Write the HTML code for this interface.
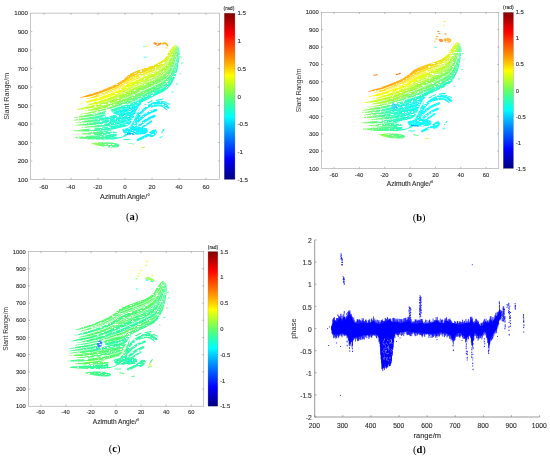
<!DOCTYPE html>
<html><head><meta charset="utf-8"><title>figure</title>
<style>html,body{margin:0;padding:0;background:#fff;overflow:hidden}svg{display:block}text{font-family:"Liberation Sans",sans-serif;stroke:#2e2e2e;stroke-width:0.12px}text.cap{font-family:"Liberation Serif",serif;stroke:none}</style>
</head><body>
<svg width="550" height="459" viewBox="0 0 550 459">
<rect width="550" height="459" fill="#fff"/>
<defs>
<linearGradient id="jet" x1="0" y1="0" x2="0" y2="1"><stop offset="0.0000" stop-color="#800000"/><stop offset="0.0312" stop-color="#9f0000"/><stop offset="0.0625" stop-color="#bf0000"/><stop offset="0.0938" stop-color="#df0000"/><stop offset="0.1250" stop-color="#ff0000"/><stop offset="0.1562" stop-color="#ff2000"/><stop offset="0.1875" stop-color="#ff3e00"/><stop offset="0.2188" stop-color="#ff5b00"/><stop offset="0.2500" stop-color="#ff7900"/><stop offset="0.2812" stop-color="#ff9700"/><stop offset="0.3125" stop-color="#ffb800"/><stop offset="0.3438" stop-color="#ffda00"/><stop offset="0.3750" stop-color="#ffff00"/><stop offset="0.4062" stop-color="#d8ff14"/><stop offset="0.4375" stop-color="#b1ff2c"/><stop offset="0.4688" stop-color="#8bff48"/><stop offset="0.5000" stop-color="#66ff66"/><stop offset="0.5312" stop-color="#48ff8b"/><stop offset="0.5625" stop-color="#2cffb1"/><stop offset="0.5938" stop-color="#14ffd8"/><stop offset="0.6250" stop-color="#00ffff"/><stop offset="0.6562" stop-color="#00daff"/><stop offset="0.6875" stop-color="#00b8ff"/><stop offset="0.7188" stop-color="#0097ff"/><stop offset="0.7500" stop-color="#0079ff"/><stop offset="0.7812" stop-color="#005bff"/><stop offset="0.8125" stop-color="#003eff"/><stop offset="0.8438" stop-color="#0020ff"/><stop offset="0.8750" stop-color="#0000ff"/><stop offset="0.9062" stop-color="#0000df"/><stop offset="0.9375" stop-color="#0000bf"/><stop offset="0.9688" stop-color="#00009f"/><stop offset="1.0000" stop-color="#000080"/></linearGradient>
</defs>
<rect x="30.60" y="13.10" width="188.90" height="166.40" fill="none" stroke="#8c8c8c" stroke-width="0.5"/>
<text x="28.00" y="181.73" font-size="6.2" text-anchor="end" fill="#2e2e2e">100</text>
<path d="M30.60 161.01h1.7M219.50 161.01h-1.7" stroke="#8c8c8c" stroke-width="0.55"/>
<text x="28.00" y="163.24" font-size="6.2" text-anchor="end" fill="#2e2e2e">200</text>
<path d="M30.60 142.52h1.7M219.50 142.52h-1.7" stroke="#8c8c8c" stroke-width="0.55"/>
<text x="28.00" y="144.75" font-size="6.2" text-anchor="end" fill="#2e2e2e">300</text>
<path d="M30.60 124.03h1.7M219.50 124.03h-1.7" stroke="#8c8c8c" stroke-width="0.55"/>
<text x="28.00" y="126.27" font-size="6.2" text-anchor="end" fill="#2e2e2e">400</text>
<path d="M30.60 105.54h1.7M219.50 105.54h-1.7" stroke="#8c8c8c" stroke-width="0.55"/>
<text x="28.00" y="107.78" font-size="6.2" text-anchor="end" fill="#2e2e2e">500</text>
<path d="M30.60 87.06h1.7M219.50 87.06h-1.7" stroke="#8c8c8c" stroke-width="0.55"/>
<text x="28.00" y="89.29" font-size="6.2" text-anchor="end" fill="#2e2e2e">600</text>
<path d="M30.60 68.57h1.7M219.50 68.57h-1.7" stroke="#8c8c8c" stroke-width="0.55"/>
<text x="28.00" y="70.80" font-size="6.2" text-anchor="end" fill="#2e2e2e">700</text>
<path d="M30.60 50.08h1.7M219.50 50.08h-1.7" stroke="#8c8c8c" stroke-width="0.55"/>
<text x="28.00" y="52.31" font-size="6.2" text-anchor="end" fill="#2e2e2e">800</text>
<path d="M30.60 31.59h1.7M219.50 31.59h-1.7" stroke="#8c8c8c" stroke-width="0.55"/>
<text x="28.00" y="33.82" font-size="6.2" text-anchor="end" fill="#2e2e2e">900</text>
<text x="28.00" y="15.33" font-size="6.2" text-anchor="end" fill="#2e2e2e">1000</text>
<path d="M44.09 179.50v-1.7M44.09 13.10v1.7" stroke="#8c8c8c" stroke-width="0.55"/>
<text x="43.69" y="188.70" font-size="6.2" text-anchor="middle" fill="#2e2e2e">-60</text>
<path d="M71.08 179.50v-1.7M71.08 13.10v1.7" stroke="#8c8c8c" stroke-width="0.55"/>
<text x="70.68" y="188.70" font-size="6.2" text-anchor="middle" fill="#2e2e2e">-40</text>
<path d="M98.06 179.50v-1.7M98.06 13.10v1.7" stroke="#8c8c8c" stroke-width="0.55"/>
<text x="97.66" y="188.70" font-size="6.2" text-anchor="middle" fill="#2e2e2e">-20</text>
<path d="M125.05 179.50v-1.7M125.05 13.10v1.7" stroke="#8c8c8c" stroke-width="0.55"/>
<text x="125.05" y="188.70" font-size="6.2" text-anchor="middle" fill="#2e2e2e">0</text>
<path d="M152.04 179.50v-1.7M152.04 13.10v1.7" stroke="#8c8c8c" stroke-width="0.55"/>
<text x="152.04" y="188.70" font-size="6.2" text-anchor="middle" fill="#2e2e2e">20</text>
<path d="M179.02 179.50v-1.7M179.02 13.10v1.7" stroke="#8c8c8c" stroke-width="0.55"/>
<text x="179.02" y="188.70" font-size="6.2" text-anchor="middle" fill="#2e2e2e">40</text>
<path d="M206.01 179.50v-1.7M206.01 13.10v1.7" stroke="#8c8c8c" stroke-width="0.55"/>
<text x="206.01" y="188.70" font-size="6.2" text-anchor="middle" fill="#2e2e2e">60</text>
<text x="125.05" y="198.70" font-size="7.1" text-anchor="middle" fill="#2e2e2e">Azimuth Angle/°</text>
<text transform="translate(8.90 96.30) rotate(-90)" font-size="7.1" text-anchor="middle" fill="#2e2e2e" style="stroke:none">Slant Range/m</text>
<rect x="224.20" y="13.10" width="10.80" height="166.40" fill="url(#jet)" stroke="#8c8c8c" stroke-width="0.3"/>
<text x="237.40" y="15.33" font-size="6.2" fill="#2e2e2e">1.5</text>
<text x="237.40" y="43.07" font-size="6.2" fill="#2e2e2e">1</text>
<path d="M235.00 40.83h-1" stroke="#8c8c8c" stroke-width="0.3"/>
<text x="237.40" y="70.80" font-size="6.2" fill="#2e2e2e">0.5</text>
<path d="M235.00 68.57h-1" stroke="#8c8c8c" stroke-width="0.3"/>
<text x="237.40" y="98.53" font-size="6.2" fill="#2e2e2e">0</text>
<path d="M235.00 96.30h-1" stroke="#8c8c8c" stroke-width="0.3"/>
<text x="237.40" y="126.27" font-size="6.2" fill="#2e2e2e">-0.5</text>
<path d="M235.00 124.03h-1" stroke="#8c8c8c" stroke-width="0.3"/>
<text x="237.40" y="154.00" font-size="6.2" fill="#2e2e2e">-1</text>
<path d="M235.00 151.77h-1" stroke="#8c8c8c" stroke-width="0.3"/>
<text x="237.40" y="181.73" font-size="6.2" fill="#2e2e2e">-1.5</text>
<text x="229.00" y="10.00" font-size="5.2" text-anchor="middle" fill="#2e2e2e">(rad)</text>
<rect x="321.40" y="12.30" width="177.40" height="156.20" fill="none" stroke="#8c8c8c" stroke-width="0.5"/>
<text x="318.80" y="170.61" font-size="5.85" text-anchor="end" fill="#2e2e2e">100</text>
<path d="M321.40 151.14h1.7M498.80 151.14h-1.7" stroke="#8c8c8c" stroke-width="0.55"/>
<text x="318.80" y="153.25" font-size="5.85" text-anchor="end" fill="#2e2e2e">200</text>
<path d="M321.40 133.79h1.7M498.80 133.79h-1.7" stroke="#8c8c8c" stroke-width="0.55"/>
<text x="318.80" y="135.89" font-size="5.85" text-anchor="end" fill="#2e2e2e">300</text>
<path d="M321.40 116.43h1.7M498.80 116.43h-1.7" stroke="#8c8c8c" stroke-width="0.55"/>
<text x="318.80" y="118.54" font-size="5.85" text-anchor="end" fill="#2e2e2e">400</text>
<path d="M321.40 99.08h1.7M498.80 99.08h-1.7" stroke="#8c8c8c" stroke-width="0.55"/>
<text x="318.80" y="101.18" font-size="5.85" text-anchor="end" fill="#2e2e2e">500</text>
<path d="M321.40 81.72h1.7M498.80 81.72h-1.7" stroke="#8c8c8c" stroke-width="0.55"/>
<text x="318.80" y="83.83" font-size="5.85" text-anchor="end" fill="#2e2e2e">600</text>
<path d="M321.40 64.37h1.7M498.80 64.37h-1.7" stroke="#8c8c8c" stroke-width="0.55"/>
<text x="318.80" y="66.47" font-size="5.85" text-anchor="end" fill="#2e2e2e">700</text>
<path d="M321.40 47.01h1.7M498.80 47.01h-1.7" stroke="#8c8c8c" stroke-width="0.55"/>
<text x="318.80" y="49.12" font-size="5.85" text-anchor="end" fill="#2e2e2e">800</text>
<path d="M321.40 29.66h1.7M498.80 29.66h-1.7" stroke="#8c8c8c" stroke-width="0.55"/>
<text x="318.80" y="31.76" font-size="5.85" text-anchor="end" fill="#2e2e2e">900</text>
<text x="318.80" y="14.41" font-size="5.85" text-anchor="end" fill="#2e2e2e">1000</text>
<path d="M334.07 168.50v-1.7M334.07 12.30v1.7" stroke="#8c8c8c" stroke-width="0.55"/>
<text x="333.67" y="177.30" font-size="5.85" text-anchor="middle" fill="#2e2e2e">-60</text>
<path d="M359.41 168.50v-1.7M359.41 12.30v1.7" stroke="#8c8c8c" stroke-width="0.55"/>
<text x="359.01" y="177.30" font-size="5.85" text-anchor="middle" fill="#2e2e2e">-40</text>
<path d="M384.76 168.50v-1.7M384.76 12.30v1.7" stroke="#8c8c8c" stroke-width="0.55"/>
<text x="384.36" y="177.30" font-size="5.85" text-anchor="middle" fill="#2e2e2e">-20</text>
<path d="M410.10 168.50v-1.7M410.10 12.30v1.7" stroke="#8c8c8c" stroke-width="0.55"/>
<text x="410.10" y="177.30" font-size="5.85" text-anchor="middle" fill="#2e2e2e">0</text>
<path d="M435.44 168.50v-1.7M435.44 12.30v1.7" stroke="#8c8c8c" stroke-width="0.55"/>
<text x="435.44" y="177.30" font-size="5.85" text-anchor="middle" fill="#2e2e2e">20</text>
<path d="M460.79 168.50v-1.7M460.79 12.30v1.7" stroke="#8c8c8c" stroke-width="0.55"/>
<text x="460.79" y="177.30" font-size="5.85" text-anchor="middle" fill="#2e2e2e">40</text>
<path d="M486.13 168.50v-1.7M486.13 12.30v1.7" stroke="#8c8c8c" stroke-width="0.55"/>
<text x="486.13" y="177.30" font-size="5.85" text-anchor="middle" fill="#2e2e2e">60</text>
<text x="410.10" y="186.00" font-size="6.6" text-anchor="middle" fill="#2e2e2e">Azimuth Angle/°</text>
<text transform="translate(301.10 90.40) rotate(-90)" font-size="6.6" text-anchor="middle" fill="#2e2e2e" style="stroke:none">Slant Range/m</text>
<rect x="503.20" y="12.30" width="10.30" height="156.20" fill="url(#jet)" stroke="#8c8c8c" stroke-width="0.3"/>
<text x="515.70" y="14.41" font-size="5.85" fill="#2e2e2e">1.5</text>
<text x="515.70" y="40.44" font-size="5.85" fill="#2e2e2e">1</text>
<path d="M513.50 38.33h-1" stroke="#8c8c8c" stroke-width="0.3"/>
<text x="515.70" y="66.47" font-size="5.85" fill="#2e2e2e">0.5</text>
<path d="M513.50 64.37h-1" stroke="#8c8c8c" stroke-width="0.3"/>
<text x="515.70" y="92.51" font-size="5.85" fill="#2e2e2e">0</text>
<path d="M513.50 90.40h-1" stroke="#8c8c8c" stroke-width="0.3"/>
<text x="515.70" y="118.54" font-size="5.85" fill="#2e2e2e">-0.5</text>
<path d="M513.50 116.43h-1" stroke="#8c8c8c" stroke-width="0.3"/>
<text x="515.70" y="144.57" font-size="5.85" fill="#2e2e2e">-1</text>
<path d="M513.50 142.47h-1" stroke="#8c8c8c" stroke-width="0.3"/>
<text x="515.70" y="170.61" font-size="5.85" fill="#2e2e2e">-1.5</text>
<text x="508.40" y="9.30" font-size="5.0" text-anchor="middle" fill="#2e2e2e">(rad)</text>
<rect x="28.30" y="251.50" width="175.50" height="154.70" fill="none" stroke="#8c8c8c" stroke-width="0.5"/>
<text x="25.70" y="408.29" font-size="5.8" text-anchor="end" fill="#2e2e2e">100</text>
<path d="M28.30 389.01h1.7M203.80 389.01h-1.7" stroke="#8c8c8c" stroke-width="0.55"/>
<text x="25.70" y="391.10" font-size="5.8" text-anchor="end" fill="#2e2e2e">200</text>
<path d="M28.30 371.82h1.7M203.80 371.82h-1.7" stroke="#8c8c8c" stroke-width="0.55"/>
<text x="25.70" y="373.91" font-size="5.8" text-anchor="end" fill="#2e2e2e">300</text>
<path d="M28.30 354.63h1.7M203.80 354.63h-1.7" stroke="#8c8c8c" stroke-width="0.55"/>
<text x="25.70" y="356.72" font-size="5.8" text-anchor="end" fill="#2e2e2e">400</text>
<path d="M28.30 337.44h1.7M203.80 337.44h-1.7" stroke="#8c8c8c" stroke-width="0.55"/>
<text x="25.70" y="339.53" font-size="5.8" text-anchor="end" fill="#2e2e2e">500</text>
<path d="M28.30 320.26h1.7M203.80 320.26h-1.7" stroke="#8c8c8c" stroke-width="0.55"/>
<text x="25.70" y="322.34" font-size="5.8" text-anchor="end" fill="#2e2e2e">600</text>
<path d="M28.30 303.07h1.7M203.80 303.07h-1.7" stroke="#8c8c8c" stroke-width="0.55"/>
<text x="25.70" y="305.15" font-size="5.8" text-anchor="end" fill="#2e2e2e">700</text>
<path d="M28.30 285.88h1.7M203.80 285.88h-1.7" stroke="#8c8c8c" stroke-width="0.55"/>
<text x="25.70" y="287.97" font-size="5.8" text-anchor="end" fill="#2e2e2e">800</text>
<path d="M28.30 268.69h1.7M203.80 268.69h-1.7" stroke="#8c8c8c" stroke-width="0.55"/>
<text x="25.70" y="270.78" font-size="5.8" text-anchor="end" fill="#2e2e2e">900</text>
<text x="25.70" y="253.59" font-size="5.8" text-anchor="end" fill="#2e2e2e">1000</text>
<path d="M40.84 406.20v-1.7M40.84 251.50v1.7" stroke="#8c8c8c" stroke-width="0.55"/>
<text x="40.44" y="414.40" font-size="5.8" text-anchor="middle" fill="#2e2e2e">-60</text>
<path d="M65.91 406.20v-1.7M65.91 251.50v1.7" stroke="#8c8c8c" stroke-width="0.55"/>
<text x="65.51" y="414.40" font-size="5.8" text-anchor="middle" fill="#2e2e2e">-40</text>
<path d="M90.98 406.20v-1.7M90.98 251.50v1.7" stroke="#8c8c8c" stroke-width="0.55"/>
<text x="90.58" y="414.40" font-size="5.8" text-anchor="middle" fill="#2e2e2e">-20</text>
<path d="M116.05 406.20v-1.7M116.05 251.50v1.7" stroke="#8c8c8c" stroke-width="0.55"/>
<text x="116.05" y="414.40" font-size="5.8" text-anchor="middle" fill="#2e2e2e">0</text>
<path d="M141.12 406.20v-1.7M141.12 251.50v1.7" stroke="#8c8c8c" stroke-width="0.55"/>
<text x="141.12" y="414.40" font-size="5.8" text-anchor="middle" fill="#2e2e2e">20</text>
<path d="M166.19 406.20v-1.7M166.19 251.50v1.7" stroke="#8c8c8c" stroke-width="0.55"/>
<text x="166.19" y="414.40" font-size="5.8" text-anchor="middle" fill="#2e2e2e">40</text>
<path d="M191.26 406.20v-1.7M191.26 251.50v1.7" stroke="#8c8c8c" stroke-width="0.55"/>
<text x="191.26" y="414.40" font-size="5.8" text-anchor="middle" fill="#2e2e2e">60</text>
<text x="116.05" y="423.90" font-size="6.6" text-anchor="middle" fill="#2e2e2e">Azimuth Angle/°</text>
<text transform="translate(8.10 328.85) rotate(-90)" font-size="6.6" text-anchor="middle" fill="#2e2e2e" style="stroke:none">Slant Range/m</text>
<rect x="208.00" y="251.50" width="9.90" height="154.70" fill="url(#jet)" stroke="#8c8c8c" stroke-width="0.3"/>
<text x="220.20" y="253.59" font-size="5.8" fill="#2e2e2e">1.5</text>
<text x="220.20" y="279.37" font-size="5.8" fill="#2e2e2e">1</text>
<path d="M217.90 277.28h-1" stroke="#8c8c8c" stroke-width="0.3"/>
<text x="220.20" y="305.15" font-size="5.8" fill="#2e2e2e">0.5</text>
<path d="M217.90 303.07h-1" stroke="#8c8c8c" stroke-width="0.3"/>
<text x="220.20" y="330.94" font-size="5.8" fill="#2e2e2e">0</text>
<path d="M217.90 328.85h-1" stroke="#8c8c8c" stroke-width="0.3"/>
<text x="220.20" y="356.72" font-size="5.8" fill="#2e2e2e">-0.5</text>
<path d="M217.90 354.63h-1" stroke="#8c8c8c" stroke-width="0.3"/>
<text x="220.20" y="382.50" font-size="5.8" fill="#2e2e2e">-1</text>
<path d="M217.90 380.42h-1" stroke="#8c8c8c" stroke-width="0.3"/>
<text x="220.20" y="408.29" font-size="5.8" fill="#2e2e2e">-1.5</text>
<text x="213.00" y="248.70" font-size="4.9" text-anchor="middle" fill="#2e2e2e">(rad)</text>
<path d="M314.7 239.9V417.0H539.6" fill="none" stroke="#767676" stroke-width="0.75"/>
<path d="M314.7 239.90h1.8" stroke="#767676" stroke-width="0.6"/>
<text x="311.70" y="243.11" font-size="6.7" text-anchor="end" fill="#2e2e2e">2</text>
<path d="M314.7 262.04h1.8" stroke="#767676" stroke-width="0.6"/>
<text x="311.70" y="265.25" font-size="6.7" text-anchor="end" fill="#2e2e2e">1.5</text>
<path d="M314.7 284.18h1.8" stroke="#767676" stroke-width="0.6"/>
<text x="311.70" y="287.39" font-size="6.7" text-anchor="end" fill="#2e2e2e">1</text>
<path d="M314.7 306.31h1.8" stroke="#767676" stroke-width="0.6"/>
<text x="311.70" y="309.52" font-size="6.7" text-anchor="end" fill="#2e2e2e">0.5</text>
<path d="M314.7 328.45h1.8" stroke="#767676" stroke-width="0.6"/>
<text x="311.70" y="331.66" font-size="6.7" text-anchor="end" fill="#2e2e2e">0</text>
<path d="M314.7 350.59h1.8" stroke="#767676" stroke-width="0.6"/>
<text x="311.70" y="353.80" font-size="6.7" text-anchor="end" fill="#2e2e2e">-0.5</text>
<path d="M314.7 372.73h1.8" stroke="#767676" stroke-width="0.6"/>
<text x="311.70" y="375.94" font-size="6.7" text-anchor="end" fill="#2e2e2e">-1</text>
<path d="M314.7 394.86h1.8" stroke="#767676" stroke-width="0.6"/>
<text x="311.70" y="398.07" font-size="6.7" text-anchor="end" fill="#2e2e2e">-1.5</text>
<path d="M314.7 417.00h1.8" stroke="#767676" stroke-width="0.6"/>
<text x="311.70" y="420.21" font-size="6.7" text-anchor="end" fill="#2e2e2e">-2</text>
<path d="M314.70 417.0v-1.8" stroke="#767676" stroke-width="0.6"/>
<text x="314.40" y="427.6" font-size="6.7" text-anchor="middle" fill="#2e2e2e">200</text>
<path d="M342.81 417.0v-1.8" stroke="#767676" stroke-width="0.6"/>
<text x="342.51" y="427.6" font-size="6.7" text-anchor="middle" fill="#2e2e2e">300</text>
<path d="M370.93 417.0v-1.8" stroke="#767676" stroke-width="0.6"/>
<text x="370.62" y="427.6" font-size="6.7" text-anchor="middle" fill="#2e2e2e">400</text>
<path d="M399.04 417.0v-1.8" stroke="#767676" stroke-width="0.6"/>
<text x="398.74" y="427.6" font-size="6.7" text-anchor="middle" fill="#2e2e2e">500</text>
<path d="M427.15 417.0v-1.8" stroke="#767676" stroke-width="0.6"/>
<text x="426.85" y="427.6" font-size="6.7" text-anchor="middle" fill="#2e2e2e">600</text>
<path d="M455.26 417.0v-1.8" stroke="#767676" stroke-width="0.6"/>
<text x="454.96" y="427.6" font-size="6.7" text-anchor="middle" fill="#2e2e2e">700</text>
<path d="M483.38 417.0v-1.8" stroke="#767676" stroke-width="0.6"/>
<text x="483.07" y="427.6" font-size="6.7" text-anchor="middle" fill="#2e2e2e">800</text>
<path d="M511.49 417.0v-1.8" stroke="#767676" stroke-width="0.6"/>
<text x="511.19" y="427.6" font-size="6.7" text-anchor="middle" fill="#2e2e2e">900</text>
<path d="M539.60 417.0v-1.8" stroke="#767676" stroke-width="0.6"/>
<text x="539.30" y="427.6" font-size="6.7" text-anchor="middle" fill="#2e2e2e">1000</text>
<text x="427.3" y="437.5" font-size="7.5" text-anchor="middle" fill="#2e2e2e">range/m</text>
<text transform="translate(296.4 328.6) rotate(-90)" font-size="7.5" text-anchor="middle" fill="#2e2e2e" style="stroke:none">phase</text>
<text x="132.2" y="220.4" class="cap" font-size="10.5" text-anchor="middle" fill="#000">(<tspan font-weight="bold">a</tspan>)</text>
<text x="419.2" y="220.6" class="cap" font-size="10.5" text-anchor="middle" fill="#000">(<tspan font-weight="bold">b</tspan>)</text>
<text x="114.7" y="451.9" class="cap" font-size="10.5" text-anchor="middle" fill="#000">(<tspan font-weight="bold">c</tspan>)</text>
<text x="419.4" y="452.8" class="cap" font-size="10.5" text-anchor="middle" fill="#000">(<tspan font-weight="bold">d</tspan>)</text>
<path d="M331.50 326.24V330.09M331.92 325.34V333.06M332.34 323.57V334.02M332.76 319.56V334.51M333.18 318.70V335.34M333.60 317.84V338.19M334.02 319.28V334.75M334.44 317.02V337.71M334.86 320.04V334.45M335.28 319.99V336.54M335.70 321.56V338.63M336.12 321.33V336.98M336.54 317.96V338.21M336.96 319.27V334.50M337.38 317.97V335.32M337.80 319.88V336.22M338.22 318.99V338.20M338.64 315.61V337.11M339.06 318.51V335.73M339.48 316.31V334.95M339.90 316.52V336.28M340.32 317.39V334.36M340.74 314.51V334.79M341.16 317.29V333.61M341.58 319.40V336.07M342.00 321.54V337.29M342.42 318.44V333.80M342.84 315.80V334.81M343.26 314.26V334.16M343.68 317.04V334.76M344.10 316.88V336.23M344.52 316.98V335.09M344.94 317.26V335.91M345.36 318.96V334.25M345.78 318.26V335.44M346.20 315.67V335.58M346.62 318.04V334.96M347.04 317.76V338.26M347.46 315.04V336.80M347.88 312.01V338.04M348.30 311.83V340.63M348.72 310.64V340.11M349.14 310.57V345.47M349.56 312.01V344.10M349.98 310.38V346.22M350.40 313.76V343.77M350.82 315.30V341.74M351.24 313.81V341.82M351.66 315.51V341.86M352.08 319.14V347.32M352.50 316.80V345.70M352.92 318.00V340.10M353.34 320.21V340.43M353.76 317.52V339.49M354.18 319.92V338.75M354.60 322.61V338.18M355.02 321.34V338.40M355.44 322.10V341.49M355.86 322.98V337.65M356.28 323.00V337.52M356.70 321.15V339.11M357.12 319.22V338.00M357.54 319.19V341.17M357.96 320.33V340.43M358.38 321.26V341.04M358.80 319.48V340.39M359.22 319.68V338.91M359.64 319.41V336.68M360.06 322.33V340.06M360.48 320.28V338.55M360.90 320.71V339.99M361.32 322.49V335.67M361.74 320.76V337.40M362.16 318.12V339.77M362.58 320.06V338.40M363.00 322.18V339.10M363.42 318.29V335.37M363.84 321.13V339.12M364.26 321.25V339.60M364.68 321.24V335.11M365.10 322.57V336.02M365.52 319.96V337.42M365.94 319.34V335.64M366.36 321.50V335.56M366.78 320.56V338.14M367.20 322.71V334.78M367.62 322.91V335.32M368.04 322.86V335.50M368.46 320.18V336.34M368.88 321.04V339.03M369.30 318.92V337.47M369.72 320.05V335.48M370.14 322.78V336.46M370.56 322.47V334.37M370.98 322.27V336.79M371.40 318.78V337.58M371.82 318.36V337.69M372.24 320.35V334.47M372.66 320.89V336.03M373.08 319.96V334.71M373.50 316.40V335.18M373.92 321.07V334.68M374.34 320.98V335.85M374.76 318.57V334.64M375.18 320.04V334.69M375.60 323.08V336.45M376.02 321.30V334.37M376.44 322.75V338.05M376.86 319.61V338.29M377.28 323.51V335.31M377.70 319.92V335.66M378.12 323.89V336.70M378.54 321.45V337.68M378.96 319.99V342.28M379.38 323.93V340.71M379.80 322.23V342.61M380.22 321.71V347.01M380.64 323.21V354.84M381.06 320.53V359.55M381.48 320.37V363.26M381.90 320.41V369.12M382.32 319.34V368.68M382.74 320.80V371.11M383.16 321.79V368.46M383.58 320.98V367.50M384.00 321.27V368.09M384.42 321.15V370.06M384.84 320.55V368.37M385.26 317.95V365.49M385.68 318.49V367.49M386.10 321.09V367.82M386.52 319.09V368.68M386.94 319.99V367.66M387.36 317.01V367.17M387.78 317.96V367.25M388.20 320.18V364.70M388.62 319.15V364.25M389.04 320.22V366.10M389.46 318.92V366.36M389.88 318.41V365.93M390.30 318.61V366.02M390.72 319.21V363.96M391.14 320.61V362.74M391.56 321.92V362.31M391.98 321.00V355.78M392.40 322.03V355.44M392.82 318.30V349.74M393.24 317.93V347.52M393.66 317.87V342.04M394.08 321.61V337.83M394.50 318.37V335.69M394.92 321.04V338.02M395.34 321.77V333.49M395.76 318.70V333.38M396.18 319.71V334.96M396.60 322.06V333.46M397.02 318.45V334.92M397.44 320.70V335.24M397.86 319.09V335.20M398.28 321.90V336.86M398.70 321.43V334.42M399.12 318.71V334.94M399.54 322.09V333.99M399.96 319.08V332.20M400.38 322.83V332.19M400.80 319.08V335.12M401.22 318.86V332.72M401.64 320.23V336.06M402.06 320.99V332.17M402.48 322.52V334.95M402.90 319.09V332.02M403.32 321.41V332.71M403.74 318.35V336.14M404.16 321.71V333.76M404.58 318.18V331.70M405.00 321.33V332.09M405.42 317.94V331.85M405.84 317.78V331.76M406.26 320.08V333.89M406.68 320.37V331.42M407.10 318.75V335.25M407.52 319.93V334.39M407.94 317.18V335.04M408.36 316.83V334.79M408.78 318.38V334.18M409.20 320.22V334.35M409.62 319.20V335.19M410.04 318.89V336.07M410.46 318.77V336.14M410.88 321.50V333.32M411.30 319.24V333.73M411.72 323.09V336.20M412.14 323.03V334.06M412.56 321.81V332.48M412.98 321.38V333.78M413.40 322.71V332.07M413.82 321.21V332.59M414.24 322.89V333.35M414.66 321.65V334.71M415.08 319.49V336.27M415.50 319.54V333.06M415.92 320.95V336.04M416.34 319.51V332.77M416.76 323.50V333.42M417.18 320.83V335.56M417.60 320.80V334.39M418.02 319.73V334.49M418.44 320.40V332.56M418.86 323.30V334.10M419.28 320.07V332.61M419.70 320.37V335.08M420.12 318.63V334.98M420.54 321.29V334.43M420.96 319.82V334.46M421.38 318.95V335.76M421.80 319.05V335.03M422.22 319.16V337.25M422.64 320.92V336.08M423.06 322.40V334.53M423.48 323.14V334.03M423.90 323.12V333.28M424.32 321.73V335.64M424.74 324.05V336.91M425.16 323.18V334.25M425.58 319.60V333.59M426.00 323.76V334.39M426.42 323.21V333.75M426.84 320.08V334.91M427.26 322.29V333.76M427.68 323.46V333.83M428.10 322.63V333.65M428.52 323.02V334.39M428.94 320.79V337.89M429.36 319.93V335.92M429.78 319.54V333.93M430.20 322.22V334.69M430.62 322.40V334.49M431.04 321.71V337.90M431.46 322.82V334.24M431.88 321.56V335.08M432.30 322.11V337.90M432.72 322.29V336.56M433.14 318.51V336.47M433.56 321.84V336.89M433.98 321.62V333.48M434.40 320.36V335.80M434.82 320.03V334.48M435.24 320.92V334.69M435.66 320.19V337.77M436.08 317.21V336.33M436.50 320.04V335.93M436.92 319.63V337.52M437.34 316.93V335.99M437.76 320.57V333.89M438.18 320.85V335.68M438.60 320.46V334.68M439.02 320.50V336.82M439.44 322.41V336.04M439.86 322.94V332.63M440.28 318.64V334.37M440.70 322.60V332.36M441.12 321.17V335.27M441.54 319.84V332.45M441.96 319.90V333.82M442.38 319.40V334.12M442.80 323.30V336.54M443.22 322.92V334.30M443.64 323.20V333.57M444.06 320.25V332.95M444.48 321.33V337.19M444.90 318.41V334.62M445.32 320.52V335.65M445.74 318.25V335.47M446.16 319.17V333.48M446.58 317.11V333.95M447.00 320.77V337.48M447.42 320.73V334.40M447.84 320.85V336.51M448.26 319.03V336.10M448.68 321.81V335.35M449.10 319.62V336.23M449.52 319.45V338.72M449.94 318.39V334.91M450.36 320.16V335.32M450.78 320.25V339.03M451.20 321.84V340.40M451.62 321.23V337.78M452.04 323.36V339.11M452.46 322.50V339.82M452.88 323.65V342.22M453.30 322.95V344.50M453.72 323.05V340.80M454.14 323.17V338.71M454.56 321.10V340.82M454.98 323.87V339.86M455.40 322.24V337.75M455.82 321.43V335.42M456.24 324.34V337.07M456.66 323.33V336.23M457.08 323.04V335.24M457.50 320.94V336.73M457.92 321.36V333.20M458.34 323.09V336.28M458.76 324.74V332.91M459.18 322.99V336.92M459.60 321.37V337.40M460.02 322.23V337.40M460.44 321.49V336.02M460.86 323.10V333.26M461.28 323.70V335.38M461.70 322.18V335.21M462.12 321.89V336.47M462.54 319.71V337.18M462.96 324.01V338.68M463.38 322.19V336.17M463.80 323.46V338.64M464.22 320.76V338.97M464.64 321.38V338.60M465.06 323.44V337.74M465.48 323.07V342.49M465.90 318.87V339.70M466.32 322.94V340.38M466.74 321.71V342.29M467.16 320.78V337.39M467.58 322.65V336.99M468.00 323.21V339.08M468.42 319.07V339.47M468.84 321.73V336.35M469.26 323.37V335.89M469.68 321.98V335.42M470.10 320.24V336.41M470.52 316.83V337.20M470.94 317.11V338.41M471.36 318.51V342.68M471.78 316.56V345.31M472.20 320.39V345.79M472.62 318.32V347.06M473.04 321.83V340.30M473.46 322.14V339.96M473.88 322.79V339.82M474.30 320.89V336.05M474.72 323.17V333.98M475.14 322.48V334.04M475.56 319.12V335.86M475.98 321.83V334.23M476.40 318.68V338.31M476.82 320.28V335.49M477.24 320.53V338.08M477.66 322.22V335.76M478.08 320.65V340.60M478.50 321.96V338.37M478.92 323.89V339.21M479.34 324.68V336.05M479.76 323.90V338.17M480.18 325.99V337.33M480.60 325.52V338.15M481.02 322.73V335.96M481.44 323.21V335.63M481.86 324.25V339.42M482.28 322.74V337.43M482.70 324.95V334.31M483.12 321.90V335.44M483.54 321.59V332.17M483.96 320.19V335.48M484.38 318.84V333.63M484.80 322.18V332.07M485.22 320.77V332.13M485.64 321.64V335.23M486.06 318.66V333.16M486.48 321.88V337.88M486.90 322.01V337.47M487.32 321.15V339.45M487.74 320.27V343.01M488.16 320.61V342.80M488.58 322.86V347.89M489.00 322.30V350.87M489.42 319.28V345.04M489.84 320.65V343.67M490.26 316.14V341.62M490.68 317.60V338.74M491.10 316.23V339.80M491.52 320.36V340.62M491.94 319.30V336.02M492.36 321.18V339.29M492.78 317.06V338.68M493.20 320.93V336.69M493.62 319.86V333.27M494.04 317.37V335.36M494.46 319.18V333.05M494.88 315.53V332.05M495.30 315.17V333.48M495.72 312.81V330.66M496.14 316.49V330.50M496.56 316.03V333.11M496.98 312.37V329.31M497.40 314.97V325.96M497.82 311.97V327.44M498.24 311.44V324.59M498.66 312.62V324.88M499.08 310.36V320.88M499.50 308.03V319.54M499.92 309.50V320.31M500.34 310.15V319.17M500.76 311.72V319.51M501.18 310.31V316.54" stroke="#0000ff" stroke-width="0.72" fill="none"/>
<polygon points="331.5,327.0 332.5,324.6 334.2,321.1 337.0,322.1 340.7,317.6 342.0,321.6 344.0,317.1 346.0,320.6 348.3,315.6 349.5,314.3 351.0,316.1 352.7,321.1 355.0,323.1 359.3,324.1 362.0,322.6 365.8,323.1 369.0,323.6 373.5,320.9 376.0,323.6 379.0,324.1 384.0,323.1 389.8,320.1 392.0,322.6 396.4,322.0 400.0,323.6 405.0,322.6 409.5,320.9 412.0,323.6 416.0,324.1 420.0,323.1 424.0,324.1 429.0,324.1 433.0,323.1 436.5,320.9 440.0,323.1 444.0,323.6 447.5,320.9 451.0,323.6 455.0,324.1 459.0,325.1 463.0,324.1 467.0,323.1 469.5,323.6 471.3,319.6 473.5,324.6 476.4,321.5 478.5,324.6 480.2,326.1 483.0,326.1 485.3,321.5 487.8,324.1 491.0,319.6 492.2,322.1 493.5,320.9 495.5,317.6 497.4,315.1 498.8,312.6 499.5,308.6 500.3,312.1 501.2,312.2 501.2,316.1 500.5,317.0 498.6,321.4 496.7,328.4 494.2,332.1 491.6,335.9 490.0,340.4 489.0,347.4 488.2,340.4 486.5,333.4 484.0,331.0 482.0,335.9 480.0,334.4 478.3,336.4 475.0,331.9 473.2,337.4 472.3,345.4 471.5,340.4 470.0,334.4 468.0,335.9 466.0,338.9 464.0,335.4 461.0,332.9 457.0,332.9 454.5,336.4 453.0,340.9 452.0,338.4 450.0,334.4 446.0,332.9 441.0,332.2 435.0,333.4 429.0,333.4 424.0,332.9 418.0,332.4 412.0,331.9 407.3,331.1 402.0,331.9 398.0,332.4 395.3,333.4 394.4,334.9 393.6,341.4 392.6,349.4 391.8,357.4 391.0,363.4 389.8,365.0 388.2,362.9 386.8,367.4 385.0,364.4 383.5,367.4 382.6,369.4 381.9,366.9 381.2,358.4 380.4,348.4 379.6,340.4 378.5,335.9 377.0,334.4 374.5,333.9 370.0,334.4 365.8,334.9 362.0,335.4 359.3,336.4 356.0,336.9 353.0,337.4 352.3,344.4 351.2,339.4 350.2,344.4 349.3,343.4 348.3,336.4 346.0,334.4 343.0,332.9 340.0,333.4 337.0,333.9 334.2,334.4 332.5,332.4 331.5,329.0" fill="#0000ff"/>
<path d="M384.67 340.49h0.42M387.73 346.49h0.89M391.03 361.72h0.53M383.04 341.22h0.65M389.30 349.28h0.52M386.37 353.27h0.74M389.68 358.48h0.73M383.41 358.34h0.55M387.87 347.58h0.77M384.19 344.69h0.52M383.73 359.34h0.69M385.46 348.11h0.90M387.27 344.32h0.80M388.73 361.79h0.45M386.95 357.84h0.82M391.34 339.93h0.55M383.39 343.36h0.89M388.03 360.39h0.59M390.86 349.33h0.53M389.98 360.75h0.45M388.16 353.26h0.51M385.89 342.25h0.50M384.75 352.79h0.73M384.23 339.26h0.56M388.98 343.26h0.56M384.23 357.29h0.67M382.83 341.33h0.60M387.70 353.70h0.45M383.84 354.99h0.60M385.03 346.07h0.88M385.32 352.03h0.58M386.36 358.88h0.90M385.84 343.54h0.76M384.24 339.14h0.85M386.44 357.87h0.60M391.03 349.60h0.48M382.35 351.69h0.72M391.30 341.05h0.71M385.91 350.60h0.47M385.03 350.99h0.86M383.29 350.28h0.80M391.87 343.54h0.46M387.03 340.23h0.86M386.08 359.80h0.71M390.45 342.69h0.79M384.42 348.30h0.82M390.49 343.21h0.51M386.20 350.91h0.59M383.43 344.68h0.76M391.17 339.95h0.68M389.77 339.88h0.82M383.38 352.79h0.68M388.47 346.04h0.61M388.03 348.79h0.73M386.67 349.08h0.41M388.39 350.26h0.52M389.84 356.94h0.63M384.00 349.88h0.45M383.48 348.90h0.45M386.62 350.73h0.42M388.56 340.89h0.77M389.98 350.76h0.43M387.24 347.69h0.88M383.56 358.71h0.90M389.52 357.74h0.50M392.02 350.31h0.88M391.36 342.80h0.79M391.51 340.51h0.58M389.76 342.65h0.85M384.95 357.76h0.47M387.22 360.16h0.50M384.83 350.64h0.56M382.57 343.19h0.48M391.56 354.63h0.85M383.89 357.05h0.46M387.51 353.64h0.58M390.93 351.77h0.69M391.03 341.41h0.90M388.50 348.07h0.80" stroke="#fff" stroke-width="0.7" opacity="0.75" fill="none"/>
<path d="M341.05 253.29v1.42M340.93 255.62v1.30M340.92 257.71v0.94M341.28 254.79v1.48M341.44 257.19v1.50M341.15 258.83v0.93M341.86 257.70v1.29M342.00 260.18v1.02M341.88 262.10v0.92M341.73 264.07v1.00M342.26 258.86v1.43M342.25 261.59v1.46M342.22 263.97v1.74M343.12 275.85v0.99M343.49 277.58v1.60M343.18 278.94v0.91M343.93 277.12v1.22M343.87 279.12v1.74M343.77 281.19v1.71M344.22 278.59v1.27M343.98 281.01v1.60M344.23 283.06v1.75M337.85 314.57v1.45M338.07 318.01v1.63M340.90 313.74v1.17M341.19 315.64v1.60M340.75 318.17v1.66M344.28 311.17v1.57M344.16 312.72v0.99M344.07 314.31v1.20M344.40 316.42v1.66M344.18 318.15v1.40M346.44 313.41v1.37M346.37 316.67v1.77M349.79 344.72v0.91M349.47 347.26v1.57M349.72 350.44v1.19M352.21 344.49v1.12M352.37 347.78v1.52M352.54 350.71v1.32M347.10 340.68v1.67M347.11 344.87v1.41M409.16 306.37v1.46M409.51 307.87v1.03M409.10 309.47v1.74M409.12 311.33v0.93M409.40 312.77v1.47M409.42 314.84v0.96M409.23 316.42v1.64M409.50 318.21v0.96M410.21 307.23v1.75M409.85 308.32v1.00M410.17 309.85v1.63M410.16 311.80v1.47M409.80 313.15v0.99M409.85 315.02v1.19M409.76 316.38v1.13M410.11 317.86v1.23M410.83 308.81v1.35M410.66 312.04v0.93M410.57 314.24v1.60M410.70 316.84v1.38M419.98 295.32v0.98M419.64 297.28v0.90M419.93 298.47v1.78M419.80 299.92v1.34M419.64 301.99v1.35M419.97 303.29v1.13M419.69 305.24v1.09M419.80 306.66v1.00M419.59 308.20v1.61M419.94 309.82v1.47M419.75 311.18v1.26M419.59 313.09v1.70M419.65 314.12v1.14M419.80 316.25v1.24M420.37 296.22v1.31M420.63 297.48v1.58M420.42 299.01v1.19M420.67 300.18v1.50M420.33 301.99v1.29M420.54 303.47v1.01M420.69 304.75v1.11M420.40 306.05v1.53M420.33 307.89v1.04M420.41 309.01v1.37M420.41 310.42v1.07M420.61 312.35v0.99M420.30 313.81v1.25M420.65 315.28v1.56M420.95 296.93v1.47M420.95 299.11v1.25M421.05 301.53v1.61M421.10 304.69v1.47M420.92 306.96v1.44M421.22 309.40v1.72M421.14 311.93v1.57M453.06 344.87v1.55M453.34 349.61v1.53M466.39 343.35v1.48M466.21 345.45v1.47M466.26 347.60v1.60M466.36 350.71v1.13M466.28 352.92v1.46M467.29 350.89v1.74M467.28 353.62v1.60M467.19 356.87v1.78M467.22 359.45v1.04M472.02 347.25v1.37M471.84 348.89v1.39M471.81 351.70v1.48M471.81 354.05v1.27M471.66 356.40v1.52M472.93 353.88v1.01M472.73 357.46v0.95M472.75 359.54v0.91M472.76 362.61v1.53M472.68 365.43v1.10M473.02 368.78v1.37M473.35 339.61v1.25M473.01 343.10v1.60M473.27 347.43v1.32M488.46 350.06v1.77M488.67 352.35v1.64M484.48 338.34v1.16M484.31 340.72v1.65M484.68 343.18v1.14M484.38 345.87v1.28M499.25 301.31v1.55M499.37 302.87v1.17M499.46 304.49v1.47M499.43 306.10v1.74M501.78 311.21v1.65M502.14 312.74v1.03M502.07 314.20v0.91M502.23 315.21v1.49M501.80 316.85v1.03M502.14 318.34v1.21M502.20 319.79v1.61M503.20 306.33v1.45M503.08 307.92v1.70M503.17 309.19v1.08M503.02 310.42v1.57M503.19 311.56v1.40M502.87 312.74v1.03M502.78 314.13v1.32M503.00 315.23v1.35M503.18 316.70v0.91M502.98 318.13v1.41M503.17 319.31v1.24M503.23 320.46v0.97M503.77 306.57v0.93M503.79 307.78v1.74M503.94 308.87v1.36M503.90 310.17v0.93M503.76 311.52v1.20M503.63 312.81v1.33M503.84 313.88v1.09M503.66 315.06v1.40M503.60 316.48v1.64M503.70 317.50v1.14M503.94 318.78v1.49M503.62 320.14v1.19M504.34 308.86v1.47M504.07 311.00v1.55M504.32 312.88v0.94M504.05 314.26v1.07M504.35 316.50v1.49M504.50 318.21v1.45M505.06 316.09v1.53M505.09 318.08v1.09M504.98 320.13v1.59M504.84 321.68v0.93M505.21 324.22v1.49M505.16 325.90v1.61M504.88 328.05v1.17M507.11 303.96v1.29M507.42 305.48v0.95M506.97 306.84v1.01M508.84 302.83v1.73M508.56 304.44v1.25M509.02 306.43v1.78M508.76 308.22v0.99M508.66 310.23v1.04M508.55 311.64v1.52M509.83 305.64v0.98M509.41 308.75v0.92M509.47 311.01v1.56M509.38 312.90v1.60M509.78 315.81v1.56M509.66 317.60v1.54M510.52 311.96v1.13M510.41 315.32v0.91M510.38 317.06v1.64M510.21 319.93v1.56M510.48 322.83v1.34M510.23 325.51v1.42M509.09 321.91v1.03M508.93 326.29v1.48M508.96 329.87v1.25M509.22 333.94v1.61M515.10 303.04v0.95M515.30 304.64v1.64M515.25 305.66v1.78M515.25 307.31v1.18M515.39 308.46v1.24M523.55 314.11v1.71M523.39 315.68v0.90M523.46 316.86v1.43M523.69 318.69v0.94M523.66 320.20v1.68M523.79 321.09v1.67M523.99 324.37v1.72M523.69 326.82v1.40M523.75 331.50v1.08M340.40 394.90v0.9M472.30 264.30v0.9M327.60 328.20v0.9M329.50 326.50v0.9M328.60 345.00v0.9M336.50 342.50v0.9M340.50 346.00v0.9M497.50 336.00v0.9M462.00 340.00v0.9M400.00 337.50v0.9M437.00 339.00v0.9M380.00 343.00v0.9M396.50 341.00v0.9" stroke="#0000ff" stroke-width="0.95" opacity="0.92" fill="none"/>
<defs><filter id="spkA" filterUnits="userSpaceOnUse" x="31" y="13" width="189" height="166" color-interpolation-filters="sRGB"><feTurbulence type="fractalNoise" baseFrequency="0.35 1.1" numOctaves="2" seed="65" result="n"/><feColorMatrix in="n" type="matrix" values="0 0 0 0 1 0 0 0 0 1 0 0 0 0 1 10 0 0 0 -6.2" result="m"/><feComposite in="SourceGraphic" in2="m" operator="out"/></filter><linearGradient id="A1" gradientUnits="userSpaceOnUse" x1="80.6" y1="0" x2="175.8" y2="0"><stop offset="0.00" stop-color="#ff9d00"/><stop offset="0.50" stop-color="#ffbd00"/><stop offset="1.00" stop-color="#d7ff0f"/></linearGradient><linearGradient id="A2" gradientUnits="userSpaceOnUse" x1="86.4" y1="0" x2="176.2" y2="0"><stop offset="0.00" stop-color="#ffe100"/><stop offset="0.50" stop-color="#ffe500"/><stop offset="1.00" stop-color="#b8ff20"/></linearGradient><linearGradient id="A3" gradientUnits="userSpaceOnUse" x1="80.4" y1="0" x2="176.6" y2="0"><stop offset="0.00" stop-color="#faff01"/><stop offset="0.50" stop-color="#e9ff06"/><stop offset="1.00" stop-color="#96ff38"/></linearGradient><linearGradient id="A4" gradientUnits="userSpaceOnUse" x1="84.9" y1="0" x2="177.1" y2="0"><stop offset="0.00" stop-color="#deff0b"/><stop offset="0.50" stop-color="#bcff1d"/><stop offset="1.00" stop-color="#77ff52"/></linearGradient><linearGradient id="A5" gradientUnits="userSpaceOnUse" x1="76.7" y1="0" x2="177.5" y2="0"><stop offset="0.00" stop-color="#c6ff17"/><stop offset="0.50" stop-color="#96ff38"/><stop offset="1.00" stop-color="#5dff6b"/></linearGradient><linearGradient id="A6" gradientUnits="userSpaceOnUse" x1="83.6" y1="0" x2="177.9" y2="0"><stop offset="0.00" stop-color="#aeff27"/><stop offset="0.50" stop-color="#71ff57"/><stop offset="1.00" stop-color="#44ff87"/></linearGradient><linearGradient id="A7" gradientUnits="userSpaceOnUse" x1="79.7" y1="0" x2="178.3" y2="0"><stop offset="0.00" stop-color="#99ff36"/><stop offset="0.50" stop-color="#49ff81"/><stop offset="1.00" stop-color="#2fffa1"/></linearGradient><linearGradient id="A8" gradientUnits="userSpaceOnUse" x1="74.0" y1="0" x2="178.6" y2="0"><stop offset="0.00" stop-color="#85ff46"/><stop offset="0.50" stop-color="#0fffd7"/><stop offset="1.00" stop-color="#1dffbc"/></linearGradient><linearGradient id="A9" gradientUnits="userSpaceOnUse" x1="73.5" y1="0" x2="141.1" y2="0"><stop offset="0.00" stop-color="#88ff43"/><stop offset="0.50" stop-color="#0dffda"/><stop offset="1.00" stop-color="#00ecff"/></linearGradient><linearGradient id="A10" gradientUnits="userSpaceOnUse" x1="75.4" y1="0" x2="140.6" y2="0"><stop offset="0.00" stop-color="#84ff47"/><stop offset="0.50" stop-color="#11ffd2"/><stop offset="1.00" stop-color="#00efff"/></linearGradient><linearGradient id="A11" gradientUnits="userSpaceOnUse" x1="75.3" y1="0" x2="139.6" y2="0"><stop offset="0.00" stop-color="#80ff4a"/><stop offset="0.50" stop-color="#15ffca"/><stop offset="1.00" stop-color="#00f3ff"/></linearGradient><linearGradient id="A12" gradientUnits="userSpaceOnUse" x1="81.6" y1="0" x2="139.1" y2="0"><stop offset="0.00" stop-color="#7cff4d"/><stop offset="0.50" stop-color="#1affc2"/><stop offset="1.00" stop-color="#00f6ff"/></linearGradient><linearGradient id="A13" gradientUnits="userSpaceOnUse" x1="73.0" y1="0" x2="139.5" y2="0"><stop offset="0.00" stop-color="#78ff51"/><stop offset="0.50" stop-color="#1effba"/><stop offset="1.00" stop-color="#00faff"/></linearGradient><linearGradient id="A14" gradientUnits="userSpaceOnUse" x1="81.4" y1="0" x2="138.5" y2="0"><stop offset="0.00" stop-color="#73ff55"/><stop offset="0.50" stop-color="#24ffb1"/><stop offset="1.00" stop-color="#00feff"/></linearGradient><linearGradient id="A15" gradientUnits="userSpaceOnUse" x1="74.9" y1="0" x2="137.4" y2="0"><stop offset="0.00" stop-color="#6eff5a"/><stop offset="0.50" stop-color="#2bffa7"/><stop offset="1.00" stop-color="#01fffb"/></linearGradient><linearGradient id="A16" gradientUnits="userSpaceOnUse" x1="91.0" y1="0" x2="120.0" y2="0"><stop offset="0.00" stop-color="#9aff35"/><stop offset="0.50" stop-color="#56ff73"/><stop offset="1.00" stop-color="#3bff92"/></linearGradient></defs>
<g filter="url(#spkA)"><g transform="matrix(1.0000 0 0 1.0000 0.000 0.000)" opacity="0.93">
<polygon points="80.6,97.4 82.3,96.8 84.5,96.0 87.2,95.1 90.0,94.2 92.6,93.4 95.0,92.7 97.0,92.0 98.9,91.3 100.7,90.6 102.5,89.9 104.2,89.2 106.0,88.5 107.7,87.8 109.5,87.1 111.2,86.4 112.8,85.6 114.5,84.9 116.0,84.1 117.5,83.3 118.9,82.5 120.2,81.6 121.5,80.8 122.8,79.9 124.0,79.0 125.1,78.1 126.1,77.2 127.0,76.2 128.0,75.3 129.3,74.4 130.8,73.5 132.8,72.5 135.1,71.6 137.6,70.6 140.2,69.7 142.7,68.8 145.0,68.0 147.1,67.2 149.1,66.6 151.0,66.0 152.8,65.4 154.6,64.7 156.3,64.0 157.9,63.1 159.5,62.2 161.0,61.2 162.4,60.2 163.7,59.2 164.8,58.3 165.7,57.3 166.3,56.4 166.9,55.5 167.3,54.6 167.7,53.7 168.2,52.9 168.7,52.1 169.2,51.4 169.6,50.8 170.1,50.2 170.6,49.6 171.0,49.0 171.4,48.4 171.9,47.9 172.3,47.3 172.7,46.8 173.1,46.4 173.5,46.0 173.9,45.7 174.4,45.4 174.8,45.2 175.2,45.0 175.5,44.9 175.8,44.8 176.2,45.2 176.0,45.4 175.7,45.6 175.4,45.9 175.0,46.2 174.6,46.7 174.2,47.1 173.9,47.7 173.5,48.4 173.1,49.1 172.7,49.8 172.2,50.6 171.8,51.3 171.4,52.0 170.9,52.8 170.5,53.5 170.0,54.3 169.5,55.1 169.0,56.0 168.4,56.9 167.9,57.9 167.4,58.9 166.8,59.9 166.1,61.0 165.1,62.0 164.0,63.0 162.7,64.0 161.2,65.0 159.6,66.0 158.0,66.9 156.3,67.8 154.6,68.6 152.8,69.3 150.9,69.9 148.9,70.6 146.9,71.3 144.8,72.1 142.5,72.9 140.0,73.8 137.5,74.8 135.0,75.8 132.7,76.7 130.8,77.6 129.2,78.5 128.0,79.4 126.9,80.2 125.9,81.0 125.0,81.8 123.8,82.6 122.6,83.4 121.3,84.2 120.0,85.0 118.7,85.7 117.3,86.5 115.8,87.2 114.3,87.9 112.7,88.6 111.0,89.2 109.3,89.9 107.5,90.5 105.8,91.2 104.0,91.8 102.3,92.5 100.5,93.1 98.7,93.7 96.7,94.4 94.7,95.0 92.3,95.7 89.6,96.4 86.8,96.9 84.2,97.3 82.0,97.7 80.5,97.9" fill="url(#A1)"/>
<polygon points="86.4,98.6 89.3,97.7 92.1,96.8 94.6,95.9 96.7,95.1 98.6,94.4 100.4,93.8 102.2,93.1 104.0,92.5 105.7,91.8 107.5,91.1 109.2,90.4 111.0,89.7 112.6,89.0 114.3,88.3 115.8,87.6 117.3,86.8 118.7,86.1 120.0,85.3 121.3,84.5 122.6,83.6 123.8,82.8 124.9,82.0 125.9,81.2 126.9,80.4 127.9,79.5 129.2,78.7 130.7,77.8 132.7,76.9 135.0,75.9 137.5,75.0 140.0,74.0 142.5,73.1 144.8,72.2 146.9,71.5 148.9,70.8 150.9,70.1 152.7,69.4 154.6,68.7 156.3,67.9 158.0,67.0 159.6,66.1 161.2,65.1 162.7,64.1 164.0,63.1 165.2,62.1 166.1,61.1 166.8,60.1 167.4,59.1 168.0,58.0 168.5,57.0 169.0,56.1 169.5,55.2 170.0,54.4 170.5,53.6 171.0,52.9 171.4,52.2 171.8,51.4 172.3,50.7 172.7,49.9 173.1,49.1 173.5,48.4 173.9,47.8 174.3,47.2 174.6,46.7 175.0,46.3 175.4,45.9 175.7,45.6 176.0,45.4 176.2,45.2 176.6,45.5 176.4,45.8 176.2,46.1 175.9,46.6 175.6,47.1 175.3,47.6 175.0,48.3 174.6,49.0 174.3,49.9 173.9,50.8 173.5,51.8 173.0,52.7 172.6,53.6 172.2,54.5 171.7,55.4 171.3,56.3 170.8,57.2 170.3,58.1 169.7,59.1 169.1,60.1 168.6,61.2 168.0,62.3 167.3,63.5 166.5,64.6 165.5,65.7 164.3,66.7 162.9,67.7 161.3,68.7 159.7,69.7 158.0,70.6 156.3,71.5 154.5,72.4 152.7,73.1 150.7,73.8 148.8,74.5 146.7,75.3 144.6,76.1 142.3,77.0 139.9,78.0 137.4,78.9 134.9,79.9 132.7,80.9 130.7,81.8 129.1,82.6 127.9,83.4 126.8,84.1 125.8,84.8 124.8,85.6 123.6,86.3 122.4,87.0 121.1,87.7 119.8,88.4 118.5,89.1 117.1,89.8 115.6,90.5 114.1,91.2 112.5,91.8 110.8,92.5 109.1,93.1 107.3,93.7 105.5,94.3 103.8,94.9 102.0,95.5 100.2,96.1 98.4,96.7 96.4,97.3 94.3,97.7 91.9,98.2 89.1,98.6 86.3,99.1" fill="url(#A2)"/>
<polygon points="80.4,103.0 82.9,102.3 85.8,101.4 88.8,100.5 91.7,99.6 94.2,98.9 96.3,98.3 98.3,97.7 100.1,97.1 101.9,96.4 103.7,95.8 105.5,95.2 107.3,94.5 109.0,93.9 110.7,93.2 112.4,92.5 114.1,91.9 115.6,91.2 117.1,90.4 118.5,89.7 119.8,89.0 121.1,88.2 122.4,87.5 123.6,86.7 124.8,86.0 125.8,85.3 126.8,84.5 127.9,83.8 129.1,83.1 130.7,82.2 132.6,81.3 134.9,80.4 137.4,79.4 139.9,78.4 142.3,77.5 144.6,76.6 146.7,75.7 148.7,75.0 150.7,74.3 152.6,73.5 154.5,72.8 156.3,71.9 158.0,71.0 159.7,70.1 161.4,69.1 162.9,68.1 164.3,67.1 165.5,66.1 166.5,65.0 167.4,63.9 168.1,62.7 168.7,61.6 169.2,60.4 169.8,59.4 170.4,58.4 170.9,57.5 171.4,56.6 171.8,55.7 172.3,54.8 172.7,53.9 173.1,52.9 173.6,52.0 174.0,51.0 174.4,50.0 174.7,49.2 175.1,48.4 175.4,47.8 175.7,47.2 176.0,46.7 176.2,46.2 176.5,45.8 176.6,45.6 177.1,46.0 176.9,46.4 176.8,46.8 176.6,47.4 176.4,48.1 176.2,48.9 175.9,49.7 175.6,50.7 175.3,51.8 174.9,53.0 174.5,54.2 174.1,55.4 173.6,56.6 173.2,57.7 172.8,58.7 172.3,59.7 171.8,60.8 171.3,61.8 170.7,63.0 170.1,64.1 169.4,65.4 168.7,66.7 167.9,67.9 167.0,69.2 165.9,70.3 164.6,71.4 163.1,72.5 161.5,73.5 159.8,74.4 158.1,75.4 156.3,76.3 154.4,77.2 152.5,78.0 150.6,78.8 148.6,79.6 146.5,80.4 144.4,81.3 142.1,82.2 139.7,83.2 137.2,84.2 134.8,85.2 132.6,86.2 130.6,87.0 129.1,87.8 127.8,88.5 126.7,89.1 125.6,89.7 124.6,90.3 123.4,90.9 122.1,91.5 120.9,92.2 119.6,92.8 118.3,93.4 116.9,94.1 115.4,94.7 113.9,95.3 112.2,95.9 110.5,96.5 108.8,97.1 107.0,97.7 105.2,98.2 103.5,98.8 101.7,99.4 99.9,99.9 98.0,100.5 96.0,101.0 93.9,101.5 91.3,102.1 88.4,102.6 85.4,102.9 82.6,103.3 80.2,103.6" fill="url(#A3)"/>
<polygon points="84.9,105.1 88.1,104.3 91.1,103.4 93.7,102.6 95.9,101.8 97.9,101.2 99.8,100.7 101.6,100.1 103.4,99.5 105.2,98.9 107.0,98.3 108.8,97.7 110.5,97.1 112.2,96.4 113.8,95.8 115.4,95.1 116.9,94.5 118.3,93.8 119.6,93.1 120.9,92.5 122.1,91.8 123.4,91.1 124.6,90.5 125.6,89.9 126.7,89.3 127.8,88.6 129.1,88.0 130.6,87.2 132.6,86.4 134.8,85.4 137.2,84.4 139.7,83.4 142.1,82.4 144.4,81.4 146.5,80.6 148.5,79.8 150.6,79.0 152.5,78.2 154.4,77.4 156.3,76.5 158.1,75.6 159.8,74.6 161.5,73.6 163.1,72.6 164.6,71.6 165.9,70.5 167.0,69.3 167.9,68.1 168.7,66.8 169.4,65.5 170.1,64.3 170.7,63.1 171.3,62.0 171.9,60.9 172.4,59.9 172.8,58.8 173.2,57.8 173.7,56.7 174.1,55.5 174.5,54.3 174.9,53.1 175.3,51.9 175.6,50.8 175.9,49.8 176.2,48.9 176.4,48.2 176.7,47.5 176.8,46.9 177.0,46.4 177.1,46.0 177.5,46.4 177.4,46.8 177.3,47.4 177.2,48.2 177.1,49.0 176.9,50.0 176.7,51.0 176.4,52.1 176.1,53.5 175.7,54.9 175.4,56.3 174.9,57.7 174.5,59.1 174.1,60.3 173.7,61.5 173.2,62.7 172.7,63.8 172.1,65.0 171.5,66.3 170.8,67.6 170.1,69.0 169.3,70.4 168.5,71.7 167.4,73.1 166.3,74.3 164.9,75.4 163.4,76.5 161.7,77.5 159.9,78.5 158.1,79.4 156.2,80.4 154.4,81.3 152.4,82.2 150.4,83.0 148.4,83.9 146.3,84.7 144.2,85.6 141.9,86.6 139.5,87.6 137.1,88.7 134.7,89.7 132.5,90.6 130.6,91.5 129.0,92.2 127.7,92.8 126.6,93.3 125.5,93.8 124.4,94.3 123.2,94.8 121.9,95.4 120.7,96.0 119.4,96.5 118.1,97.1 116.7,97.7 115.2,98.3 113.7,98.9 112.0,99.4 110.3,100.0 108.6,100.5 106.8,101.1 105.0,101.6 103.2,102.2 101.4,102.7 99.6,103.2 97.7,103.7 95.7,104.2 93.5,104.5 90.9,104.9 87.9,105.2 84.8,105.6" fill="url(#A4)"/>
<polygon points="76.7,109.3 78.6,108.7 81.3,108.0 84.4,107.2 87.7,106.4 90.8,105.8 93.4,105.2 95.6,104.7 97.7,104.1 99.6,103.6 101.4,103.1 103.2,102.5 104.9,102.0 106.8,101.4 108.5,100.8 110.3,100.2 112.0,99.6 113.7,99.0 115.2,98.4 116.7,97.8 118.1,97.1 119.4,96.5 120.7,95.9 122.0,95.3 123.2,94.6 124.4,94.1 125.5,93.6 126.6,93.1 127.7,92.5 129.0,91.9 130.6,91.2 132.5,90.4 134.7,89.4 137.1,88.4 139.5,87.4 141.9,86.3 144.2,85.4 146.3,84.5 148.4,83.6 150.4,82.8 152.4,81.9 154.4,81.0 156.2,80.1 158.1,79.2 159.9,78.2 161.7,77.3 163.3,76.3 164.9,75.2 166.2,74.1 167.4,72.8 168.4,71.5 169.3,70.1 170.1,68.8 170.8,67.4 171.5,66.1 172.1,64.9 172.7,63.7 173.1,62.5 173.6,61.3 174.0,60.2 174.5,58.9 174.9,57.6 175.3,56.2 175.7,54.8 176.1,53.4 176.4,52.1 176.7,50.9 176.9,49.9 177.1,49.0 177.2,48.1 177.3,47.4 177.4,46.8 177.5,46.4 177.9,46.8 177.9,47.3 177.8,48.0 177.8,48.9 177.8,49.9 177.6,51.0 177.5,52.2 177.2,53.5 176.9,55.1 176.6,56.7 176.2,58.4 175.8,60.0 175.4,61.5 174.9,62.9 174.5,64.3 174.1,65.6 173.6,66.9 173.0,68.2 172.3,69.5 171.6,71.0 170.8,72.5 169.9,74.0 169.0,75.5 167.9,76.9 166.6,78.2 165.2,79.4 163.6,80.4 161.8,81.5 160.0,82.4 158.1,83.4 156.2,84.3 154.3,85.3 152.3,86.2 150.3,87.1 148.2,88.0 146.1,89.0 144.0,89.9 141.7,90.9 139.4,92.0 137.0,93.1 134.6,94.1 132.4,95.0 130.5,95.9 129.0,96.5 127.6,97.0 126.4,97.4 125.3,97.8 124.2,98.2 123.0,98.7 121.7,99.2 120.5,99.7 119.2,100.2 117.9,100.7 116.5,101.2 115.0,101.8 113.5,102.3 111.8,102.8 110.1,103.4 108.3,103.9 106.5,104.4 104.7,104.9 102.9,105.4 101.1,105.9 99.3,106.4 97.4,106.8 95.3,107.3 93.1,107.8 90.4,108.3 87.2,108.8 84.0,109.2 80.9,109.5 78.3,109.7 76.5,109.8" fill="url(#A5)"/>
<polygon points="83.6,110.9 87.0,110.1 90.2,109.3 93.0,108.5 95.3,107.8 97.4,107.3 99.3,106.8 101.1,106.3 102.9,105.8 104.7,105.3 106.5,104.7 108.3,104.2 110.1,103.6 111.8,103.0 113.5,102.5 115.0,101.9 116.5,101.3 117.9,100.7 119.2,100.2 120.5,99.6 121.8,99.0 123.0,98.5 124.2,98.0 125.4,97.6 126.4,97.2 127.6,96.8 129.0,96.3 130.5,95.6 132.5,94.8 134.6,93.9 137.0,92.8 139.4,91.7 141.7,90.7 144.0,89.7 146.1,88.7 148.2,87.8 150.3,86.9 152.3,86.0 154.3,85.1 156.2,84.1 158.1,83.2 160.0,82.2 161.8,81.2 163.6,80.2 165.2,79.1 166.6,78.0 167.9,76.7 168.9,75.3 169.9,73.8 170.7,72.3 171.5,70.8 172.3,69.3 172.9,68.0 173.5,66.7 174.0,65.4 174.5,64.1 174.9,62.8 175.3,61.4 175.7,59.9 176.2,58.3 176.5,56.6 176.9,55.0 177.2,53.5 177.4,52.1 177.6,50.9 177.7,49.8 177.8,48.9 177.8,48.0 177.8,47.3 177.9,46.7 178.3,47.1 178.3,47.8 178.3,48.6 178.4,49.6 178.4,50.8 178.4,52.0 178.2,53.4 178.0,54.9 177.8,56.6 177.4,58.5 177.0,60.4 176.6,62.2 176.2,63.9 175.8,65.5 175.4,67.0 174.9,68.4 174.4,69.8 173.8,71.2 173.1,72.7 172.3,74.3 171.5,75.9 170.5,77.5 169.5,79.1 168.3,80.6 167.0,82.0 165.5,83.2 163.8,84.3 162.0,85.3 160.1,86.3 158.2,87.3 156.2,88.3 154.3,89.3 152.2,90.2 150.1,91.2 148.0,92.2 145.9,93.1 143.8,94.1 141.5,95.2 139.2,96.3 136.8,97.4 134.5,98.4 132.4,99.4 130.5,100.2 128.9,100.8 127.5,101.2 126.3,101.5 125.2,101.8 124.1,102.1 122.8,102.5 121.6,102.9 120.3,103.3 119.0,103.8 117.7,104.3 116.3,104.7 114.8,105.2 113.3,105.7 111.6,106.2 109.9,106.7 108.1,107.2 106.3,107.7 104.5,108.2 102.7,108.6 100.9,109.1 99.0,109.5 97.1,109.9 95.0,110.4 92.7,110.6 90.0,110.8 86.8,111.1 83.5,111.4" fill="url(#A6)"/>
<polygon points="79.7,114.1 83.0,113.5 86.5,112.8 89.8,112.1 92.6,111.4 94.9,111.0 97.0,110.5 99.0,110.1 100.8,109.6 102.6,109.2 104.4,108.7 106.3,108.2 108.1,107.7 109.9,107.1 111.6,106.6 113.2,106.1 114.8,105.6 116.3,105.0 117.7,104.5 119.0,104.0 120.3,103.5 121.5,103.0 122.8,102.6 124.1,102.2 125.2,101.9 126.3,101.6 127.5,101.3 128.9,100.9 130.5,100.3 132.4,99.5 134.5,98.5 136.8,97.5 139.2,96.4 141.5,95.3 143.8,94.2 145.9,93.2 148.0,92.3 150.1,91.3 152.2,90.3 154.3,89.3 156.2,88.3 158.2,87.4 160.1,86.4 162.0,85.4 163.8,84.4 165.5,83.3 167.0,82.1 168.3,80.7 169.5,79.2 170.5,77.6 171.5,76.0 172.3,74.3 173.1,72.8 173.8,71.3 174.4,69.9 174.9,68.5 175.4,67.0 175.8,65.5 176.2,64.0 176.7,62.3 177.1,60.4 177.4,58.5 177.8,56.7 178.0,54.9 178.3,53.4 178.4,52.0 178.4,50.8 178.4,49.6 178.4,48.6 178.3,47.8 178.3,47.1 178.6,47.4 178.6,48.1 178.7,49.0 178.8,50.1 178.9,51.4 178.9,52.8 178.8,54.3 178.6,56.0 178.4,57.8 178.0,59.9 177.7,61.9 177.3,63.9 176.8,65.7 176.4,67.4 176.0,69.0 175.5,70.5 175.0,72.0 174.4,73.6 173.7,75.1 172.9,76.8 172.0,78.5 171.0,80.2 169.9,81.9 168.6,83.5 167.2,84.9 165.7,86.1 164.0,87.3 162.1,88.3 160.2,89.2 158.2,90.2 156.2,91.2 154.2,92.2 152.1,93.2 150.0,94.3 147.9,95.3 145.8,96.3 143.6,97.3 141.4,98.4 139.1,99.5 136.7,100.6 134.5,101.7 132.3,102.6 130.5,103.4 128.8,104.0 127.5,104.3 126.2,104.6 125.1,104.8 123.9,105.0 122.7,105.3 121.4,105.7 120.1,106.1 118.9,106.5 117.6,107.0 116.2,107.4 114.7,107.9 113.1,108.3 111.5,108.8 109.7,109.3 107.9,109.8 106.1,110.2 104.3,110.7 102.4,111.1 100.6,111.5 98.8,111.9 96.9,112.3 94.8,112.8 92.4,113.2 89.6,113.5 86.3,113.8 82.8,114.2 79.6,114.5" fill="url(#A7)"/>
<polygon points="74.0,117.4 76.2,116.9 79.1,116.2 82.5,115.5 86.1,114.8 89.5,114.3 92.3,113.8 94.7,113.4 96.8,113.0 98.8,112.6 100.6,112.1 102.4,111.7 104.2,111.2 106.1,110.8 107.9,110.3 109.7,109.7 111.4,109.2 113.1,108.7 114.7,108.2 116.2,107.8 117.5,107.3 118.8,106.8 120.1,106.3 121.4,105.9 122.7,105.5 123.9,105.2 125.1,104.9 126.2,104.7 127.5,104.5 128.8,104.1 130.4,103.6 132.3,102.8 134.5,101.8 136.7,100.8 139.1,99.6 141.4,98.5 143.6,97.4 145.7,96.4 147.9,95.4 150.0,94.4 152.1,93.4 154.2,92.4 156.2,91.3 158.2,90.3 160.2,89.4 162.1,88.4 164.0,87.4 165.7,86.3 167.3,85.0 168.6,83.6 169.9,82.0 171.0,80.3 172.0,78.6 172.9,76.9 173.7,75.2 174.5,73.7 175.1,72.2 175.6,70.6 176.0,69.1 176.5,67.5 176.9,65.8 177.3,64.0 177.7,62.0 178.1,59.9 178.4,57.9 178.7,56.0 178.8,54.3 178.9,52.8 178.9,51.4 178.8,50.2 178.7,49.0 178.7,48.1 178.6,47.4 179.0,47.8 179.1,48.6 179.2,49.6 179.4,50.9 179.6,52.3 179.6,53.8 179.6,55.5 179.4,57.4 179.2,59.5 178.9,61.7 178.5,64.0 178.1,66.2 177.7,68.2 177.3,70.0 176.9,71.8 176.4,73.4 175.9,75.1 175.3,76.7 174.5,78.4 173.6,80.2 172.6,82.0 171.6,83.8 170.4,85.6 169.1,87.3 167.6,88.8 166.0,90.1 164.2,91.2 162.3,92.2 160.3,93.2 158.2,94.2 156.2,95.2 154.2,96.3 152.0,97.3 149.9,98.4 147.7,99.5 145.6,100.5 143.4,101.6 141.2,102.7 138.9,103.8 136.6,105.0 134.4,106.1 132.3,107.0 130.4,107.8 128.8,108.3 127.4,108.6 126.1,108.7 125.0,108.8 123.8,109.0 122.5,109.2 121.2,109.5 119.9,109.8 118.7,110.2 117.4,110.6 116.0,111.0 114.5,111.4 112.9,111.8 111.3,112.2 109.5,112.7 107.7,113.1 105.9,113.5 104.0,114.0 102.2,114.3 100.4,114.7 98.5,115.1 96.6,115.4 94.4,115.8 92.0,116.2 89.1,116.6 85.7,117.1 82.1,117.4 78.7,117.6 75.9,117.8 73.9,117.8" fill="url(#A8)"/>
<polygon points="73.5,120.0 75.6,119.5 78.5,119.0 82.0,118.3 85.6,117.7 89.1,117.2 92.0,116.7 94.4,116.3 96.5,115.9 98.5,115.5 100.3,115.1 102.2,114.7 104.0,114.3 105.9,113.8 107.7,113.4 109.5,112.9 111.2,112.4 112.9,111.9 114.5,111.5 116.0,111.1 117.4,110.6 118.7,110.2 119.9,109.9 121.2,109.5 122.5,109.2 123.8,108.9 125.2,108.7 126.5,108.5 127.8,108.4 129.1,108.1 130.4,107.8 131.7,107.3 132.9,106.7 134.2,106.1 135.4,105.4 136.5,104.8 137.5,104.3 138.4,103.8 139.2,103.4 139.9,103.1 140.6,102.7 141.1,102.5 140.6,105.3 140.1,105.6 139.5,105.9 138.8,106.4 138.0,106.8 137.1,107.3 136.1,107.8 135.1,108.5 133.9,109.1 132.7,109.8 131.5,110.4 130.2,110.9 129.0,111.3 127.7,111.6 126.3,111.9 125.0,112.1 123.7,112.3 122.3,112.6 121.0,112.9 119.8,113.3 118.5,113.6 117.2,114.0 115.8,114.4 114.3,114.8 112.7,115.2 111.1,115.6 109.4,116.0 107.6,116.4 105.7,116.7 103.9,117.1 102.1,117.4 100.2,117.8 98.4,118.1 96.4,118.4 94.3,118.7 91.9,119.0 89.0,119.4 85.5,119.8 81.9,120.0 78.5,120.2 75.5,120.4 73.4,120.4" fill="url(#A9)"/>
<polygon points="75.4,122.3 78.4,121.8 81.9,121.2 85.5,120.5 89.0,119.9 91.9,119.5 94.3,119.2 96.4,118.8 98.4,118.5 100.2,118.1 102.0,117.7 103.9,117.4 105.7,116.9 107.6,116.5 109.3,116.1 111.1,115.6 112.7,115.2 114.3,114.8 115.8,114.4 117.2,114.0 118.5,113.6 119.8,113.3 121.0,112.9 122.3,112.6 123.7,112.3 125.0,112.1 126.3,111.9 127.7,111.6 129.0,111.3 130.2,110.9 131.5,110.4 132.7,109.8 133.9,109.2 135.1,108.5 136.1,107.8 137.1,107.3 138.0,106.8 138.8,106.4 139.5,105.9 140.1,105.6 140.6,105.3 140.1,108.3 139.6,108.6 139.0,109.0 138.3,109.5 137.5,110.0 136.6,110.5 135.7,111.1 134.7,111.7 133.6,112.4 132.4,113.1 131.3,113.8 130.1,114.3 128.8,114.7 127.5,115.1 126.2,115.4 124.8,115.7 123.5,115.9 122.1,116.2 120.8,116.6 119.6,116.9 118.3,117.3 117.0,117.6 115.6,118.0 114.1,118.3 112.6,118.7 110.9,119.0 109.2,119.4 107.4,119.7 105.6,120.0 103.8,120.4 101.9,120.6 100.1,120.9 98.3,121.2 96.3,121.4 94.2,121.7 91.8,122.0 88.9,122.3 85.4,122.4 81.8,122.6 78.4,122.7 75.4,122.8" fill="url(#A10)"/>
<polygon points="75.3,125.0 78.3,124.5 81.7,124.0 85.4,123.3 88.8,122.8 91.7,122.4 94.1,122.1 96.3,121.8 98.3,121.5 100.1,121.2 101.9,120.8 103.8,120.5 105.6,120.1 107.4,119.7 109.2,119.3 110.9,118.9 112.6,118.5 114.1,118.2 115.6,117.8 117.0,117.5 118.3,117.1 119.6,116.8 120.8,116.4 122.1,116.1 123.5,115.8 124.8,115.5 126.2,115.2 127.5,114.9 128.8,114.6 130.1,114.2 131.3,113.6 132.5,113.0 133.6,112.3 134.7,111.6 135.7,111.0 136.7,110.4 137.5,109.9 138.3,109.4 139.0,108.9 139.6,108.5 139.1,112.0 138.4,112.5 137.7,113.0 137.0,113.5 136.1,114.1 135.3,114.7 134.3,115.4 133.3,116.1 132.2,116.8 131.0,117.5 129.9,118.1 128.6,118.5 127.3,119.0 126.0,119.3 124.6,119.7 123.3,120.0 121.9,120.3 120.6,120.7 119.3,121.0 118.1,121.3 116.8,121.6 115.4,122.0 113.9,122.3 112.4,122.6 110.7,122.9 109.0,123.2 107.3,123.4 105.5,123.7 103.6,124.0 101.8,124.2 100.0,124.4 98.1,124.6 96.2,124.8 94.0,125.0 91.6,125.3 88.7,125.5 85.3,125.5 81.7,125.6 78.2,125.6 75.3,125.6" fill="url(#A11)"/>
<polygon points="81.6,127.3 85.2,126.8 88.7,126.3 91.6,125.9 94.0,125.4 96.1,125.2 98.1,124.9 100.0,124.7 101.8,124.4 103.6,124.1 105.5,123.8 107.3,123.5 109.0,123.2 110.7,122.8 112.4,122.5 113.9,122.2 115.4,121.9 116.8,121.5 118.1,121.2 119.3,120.9 120.6,120.6 121.9,120.2 123.3,119.9 124.6,119.6 126.0,119.2 127.3,118.9 128.6,118.4 129.9,118.0 131.0,117.4 132.2,116.7 133.3,116.0 134.3,115.3 135.3,114.6 136.2,114.0 137.0,113.4 137.7,112.9 138.4,112.4 139.1,111.9 138.6,114.5 138.0,115.0 137.3,115.6 136.6,116.2 135.8,116.8 134.9,117.4 134.0,118.1 133.0,118.8 132.0,119.6 130.9,120.2 129.7,120.9 128.5,121.4 127.2,121.8 125.9,122.2 124.5,122.6 123.1,123.0 121.8,123.3 120.5,123.7 119.2,124.0 117.9,124.3 116.6,124.6 115.2,124.9 113.8,125.2 112.2,125.5 110.6,125.7 108.9,126.0 107.1,126.2 105.3,126.5 103.5,126.7 101.7,126.9 99.9,127.1 98.0,127.3 96.1,127.4 93.9,127.6 91.5,127.6 88.6,127.6 85.2,127.7 81.6,127.7" fill="url(#A12)"/>
<polygon points="73.0,130.6 75.1,130.3 78.1,129.9 81.5,129.4 85.1,129.0 88.6,128.8 91.5,128.5 93.9,128.3 96.0,128.1 98.0,127.9 99.9,127.7 101.7,127.5 103.5,127.2 105.3,126.9 107.1,126.7 108.9,126.4 110.6,126.1 112.2,125.8 113.7,125.5 115.2,125.2 116.6,124.9 117.9,124.6 119.2,124.3 120.4,124.0 121.7,123.6 123.1,123.3 124.5,122.9 125.8,122.5 127.2,122.1 128.5,121.7 129.7,121.1 130.8,120.5 131.9,119.8 133.0,119.1 134.0,118.4 134.9,117.7 135.7,117.0 136.5,116.4 137.3,115.8 138.0,115.3 138.6,114.8 139.1,114.3 139.5,114.0 138.9,117.3 138.5,117.6 138.0,118.1 137.4,118.7 136.8,119.3 136.0,119.9 135.2,120.6 134.4,121.2 133.6,122.0 132.6,122.7 131.7,123.5 130.6,124.2 129.5,124.8 128.3,125.4 127.0,125.9 125.7,126.4 124.3,126.9 122.9,127.3 121.5,127.7 120.2,128.0 118.9,128.3 117.7,128.6 116.4,128.9 115.0,129.1 113.5,129.4 112.0,129.6 110.4,129.8 108.7,130.0 107.0,130.2 105.2,130.4 103.4,130.5 101.5,130.7 99.7,130.8 97.9,130.9 95.9,131.0 93.8,131.1 91.4,131.3 88.5,131.4 85.0,131.5 81.4,131.4 78.0,131.3 75.1,131.2 73.0,131.1" fill="url(#A13)"/>
<polygon points="81.4,133.5 85.0,133.1 88.4,132.7 91.3,132.2 93.7,131.8 95.9,131.6 97.9,131.5 99.7,131.3 101.5,131.1 103.3,130.9 105.2,130.7 107.0,130.5 108.7,130.2 110.4,130.0 112.0,129.7 113.5,129.5 115.0,129.2 116.4,129.0 117.7,128.7 118.9,128.4 120.2,128.1 121.5,127.8 122.9,127.4 124.3,126.9 125.7,126.5 127.0,126.0 128.3,125.5 129.5,124.9 130.6,124.3 131.6,123.6 132.6,122.8 133.6,122.1 134.4,121.3 135.2,120.6 136.0,120.0 136.7,119.4 137.4,118.7 138.0,118.2 138.5,117.7 137.9,121.5 137.4,122.1 136.8,122.7 136.1,123.4 135.4,124.1 134.7,124.8 133.9,125.5 133.1,126.2 132.2,127.0 131.3,127.8 130.3,128.6 129.3,129.2 128.1,129.9 126.8,130.5 125.4,131.0 124.0,131.5 122.6,132.0 121.3,132.4 120.0,132.8 118.7,133.1 117.4,133.4 116.1,133.6 114.7,133.8 113.3,134.0 111.7,134.2 110.1,134.3 108.5,134.5 106.8,134.6 105.0,134.7 103.2,134.8 101.4,134.8 99.6,134.9 97.7,135.0 95.7,135.0 93.6,135.1 91.2,134.8 88.3,134.6 84.9,134.4 81.3,134.2" fill="url(#A14)"/>
<polygon points="74.9,137.2 77.8,136.9 81.2,136.5 84.8,136.1 88.3,135.7 91.2,135.6 93.6,135.5 95.7,135.4 97.7,135.3 99.6,135.1 101.4,135.0 103.2,134.8 105.0,134.7 106.8,134.5 108.5,134.3 110.2,134.1 111.8,133.9 113.3,133.7 114.8,133.5 116.1,133.3 117.4,133.1 118.7,132.8 120.0,132.5 121.3,132.1 122.7,131.7 124.1,131.2 125.4,130.7 126.8,130.2 128.1,129.6 129.3,129.0 130.4,128.3 131.3,127.5 132.3,126.8 133.1,126.0 133.9,125.2 134.7,124.5 135.4,123.8 136.2,123.1 136.8,122.4 137.4,121.8 136.6,126.7 136.0,127.3 135.4,128.1 134.7,128.9 134.0,129.7 133.3,130.4 132.5,131.2 131.8,132.0 130.9,132.8 130.0,133.6 129.0,134.4 127.8,135.0 126.5,135.7 125.2,136.4 123.8,137.0 122.4,137.5 121.0,138.0 119.7,138.3 118.4,138.6 117.1,138.9 115.8,139.0 114.4,139.2 113.0,139.4 111.5,139.5 109.9,139.6 108.2,139.6 106.6,139.6 104.8,139.6 103.0,139.7 101.2,139.7 99.4,139.6 97.5,139.6 95.5,139.6 93.4,139.6 91.0,139.5 88.1,139.5 84.7,139.1 81.1,138.7 77.7,138.3 74.8,138.0" fill="url(#A15)"/>
<path d="M98.4 96.0L100.3 95.4L102.1 94.7L103.8 94.1L105.6 93.5L107.4 92.8L109.1 92.2L110.8 91.5L112.5 90.9L114.2 90.2L115.7 89.5L117.2 88.8L118.6 88.1L119.9 87.3L121.2 86.6L122.4 85.8L123.7 85.0L124.8 84.3L125.9 83.5L126.8 82.8L127.9 82.0L129.2 81.2L130.7 80.4L132.7 79.5L134.9 78.5L137.4 77.5L139.9 76.5L142.4 75.6L144.7 74.7L146.8 73.9L148.8 73.2L150.8 72.5L152.7 71.8L154.5 71.1L156.3 70.2L158.0 69.4L159.7 68.4L161.3 67.4L162.8 66.4L164.2 65.4L165.4 64.4L166.3 63.4L167.1 62.3L167.8 61.2L168.4 60.1L168.9 59.0L169.5 58.0L170.0 57.1L170.5 56.2" stroke="#fff" stroke-width="0.75" fill="none" opacity="0.9"/>
<path d="M118.2 95.1L119.5 94.5L120.8 93.8L122.1 93.2L123.3 92.6L124.5 92.0L125.6 91.4L126.6 90.9L127.7 90.3L129.0 89.7L130.6 88.9L132.5 88.1L134.8 87.1L137.2 86.1L139.6 85.1L142.0 84.1L144.3 83.1L146.4 82.2L148.5 81.4L150.5 80.6L152.5 79.8L154.4 78.9L156.3 78.0L158.1 77.1L159.9 76.2L161.6 75.2L163.2 74.2L164.7 73.1L166.1 72.0L167.2 70.8L168.2 69.6L169.0 68.2L169.7 66.9" stroke="#fff" stroke-width="0.6" fill="none" opacity="0.9"/>
<path d="M121.7 99.4L123.0 98.9L124.2 98.5L125.3 98.1L126.4 97.7L127.6 97.3L128.9 96.8L130.5 96.1L132.4 95.3L134.6 94.4L136.9 93.3L139.3 92.3L141.7 91.2L143.9 90.2L146.1 89.2L148.2 88.3L150.3 87.4L152.3 86.5L154.3 85.6L156.2 84.6L158.1 83.6L160.0 82.7L161.9 81.7L163.6 80.7L165.2 79.6L166.6 78.4L167.9 77.1L169.0 75.7L170.0 74.2L170.8 72.7L171.6 71.2L172.4 69.7L173.0 68.4L173.6 67.0L174.1 65.7L174.6 64.4L175.0 63.1L175.4 61.7L175.8 60.1L176.3 58.5L176.6 56.8" stroke="#fff" stroke-width="0.8" fill="none" opacity="0.9"/>
<path d="M94.8 112.7L96.9 112.3L98.8 111.9L100.7 111.4L102.5 111.0L104.3 110.6L106.1 110.1L108.0 109.6L109.7 109.1L111.5 108.6L113.1 108.1L114.7 107.7L116.2 107.2L117.6 106.7L118.9 106.3L120.2 105.8L121.4 105.4L122.7 105.0L124.0 104.7L125.1 104.4L126.3 104.2L127.5 103.9L128.9 103.6L130.5 103.0L132.3 102.2L134.5 101.3L136.7 100.2L139.1 99.1L141.4 98.0" stroke="#fff" stroke-width="0.6" fill="none" opacity="0.9"/>
<polygon points="106.3,109.3 110.2,109.2 113.4,113.4 116.7,114.2 112.5,115.2 108.5,117 105.3,116.3 105.6,112.5" fill="#fff"/>
<path d="M140.6 105.2L136.6 112L133.4 119.5L130.4 124.8L125.5 128.2L121 129" stroke="#fff" stroke-width="1.5" fill="none" stroke-linejoin="round"/>
<polygon points="108.5,131.6 116,128.8 127,126.5 138,127 138,131 127,131.5 123,136.5 116.5,137.5 117,132" fill="#fff"/>
<ellipse cx="92.5" cy="128.7" rx="2.4" ry="1.3" fill="#fff"/>
<path d="M136.8 119.5C139.5 112.5 147 106.5 153.5 103.6C158 101.8 164 102.8 168.3 107.3" stroke="#00f4ff" stroke-width="2.7" fill="none" stroke-linecap="round"/>
<path d="M155 105.5C159 104.5 163 106 166.5 109.5" stroke="#00f4ff" stroke-width="1.3" fill="none" stroke-linecap="round"/>
<path d="M158 101.5C162 100.6 166 101.8 169.5 104.2" stroke="#01fff8" stroke-width="1.1" fill="none" stroke-linecap="round"/>
<path d="M150 107.3C155 105 160 105 165 106.6" stroke="#01fff8" stroke-width="1.4" fill="none" stroke-linecap="round"/>
<path d="M156.5 100.3L162.8 99.2" stroke="#01fff8" stroke-width="1.3" fill="none" stroke-linecap="round"/>
<path d="M145 104.5L152 100.8" stroke="#01fff8" stroke-width="1.2" fill="none" stroke-linecap="round"/>
<path d="M137.5 122C142 116.5 149 112 156 110" stroke="#00f4ff" stroke-width="2.5" fill="none" stroke-linecap="round"/>
<path d="M139.5 125.3C144 121 149 118 154.5 116" stroke="#00f4ff" stroke-width="2.5" fill="none" stroke-linecap="round"/>
<path d="M142 127.5L151.5 121.3" stroke="#00f4ff" stroke-width="1.9" fill="none" stroke-linecap="round"/>
<polygon points="122,129.5 129,127.6 134,125.6 140,127 147,128.3 148,131.5 145,134 138,134.8 130,134.2 124,133.6" fill="#00f4ff"/>
<path d="M126.5 133.6L133.5 134.3" stroke="#0096ff" stroke-width="1.2" fill="none" stroke-linecap="round"/>
<path d="M138 139.8C144 137.4 150 134 155 130.6" stroke="#00f4ff" stroke-width="2.6" fill="none" stroke-linecap="round"/>
<ellipse cx="152.7" cy="133.4" rx="4.6" ry="2.9" transform="rotate(-38 152.7 133.4)" fill="#00f4ff"/>
<path d="M161.8 132.6L164 129.4" stroke="#01fff8" stroke-width="1.2" fill="none" stroke-linecap="round"/>
<path d="M160 137.5L162 136.6" stroke="#01fff8" stroke-width="1.0" fill="none" stroke-linecap="round"/>
<path d="M91 143.6C96 141.8 110 142 116.5 143.2C120.5 144.2 120.5 147 116.5 147.5C110 148 99 147 91 143.6Z" fill="url(#A16)"/>
<path d="M129 143.6L133.4 144.4" stroke="#42ff8a" stroke-width="1.1" fill="none" stroke-linecap="round"/>
<path d="M142 147.6L144.6 147.2" stroke="#b2ff24" stroke-width="1.0" fill="none" stroke-linecap="round"/>
<path d="M123.5 139.6L130 139.4" stroke="#0bffdd" stroke-width="1.0" fill="none" stroke-linecap="round"/>
<path d="M154.3 43.2L157.5 44.8L160.5 43.6" stroke="#ff8600" stroke-width="2.0" fill="none" stroke-linecap="round"/>
<path d="M162.6 43.6L165.6 43L167.6 45.6" stroke="#ffb200" stroke-width="1.8" fill="none" stroke-linecap="round"/>
<path d="M166 47.8L167.2 48" stroke="#ffdd00" stroke-width="0.9" fill="none" stroke-linecap="round"/>
<path d="M146 46.3L148 46" stroke="#fff400" stroke-width="0.9" fill="none" stroke-linecap="round"/>
<path d="M143.2 46.5L145 46.4" stroke="#0bffdd" stroke-width="0.8" fill="none" stroke-linecap="round"/>
<path d="M144 57L147 57" stroke="#03fff4" stroke-width="0.9" fill="none" stroke-linecap="round"/>
<path d="M180.5 57h1.2" stroke="#64ff64" stroke-width="0.9" fill="none" stroke-linecap="round"/>
<path d="M181.5 63h1.2" stroke="#42ff8a" stroke-width="0.9" fill="none" stroke-linecap="round"/>
<path d="M179.5 74h1.2" stroke="#32ff9e" stroke-width="0.9" fill="none" stroke-linecap="round"/>
<path d="M176.5 84h1.2" stroke="#24ffb2" stroke-width="0.9" fill="none" stroke-linecap="round"/>
<path d="M172 92h1.2" stroke="#0bffdd" stroke-width="0.9" fill="none" stroke-linecap="round"/>
</g></g>
<defs><filter id="spkB" filterUnits="userSpaceOnUse" x="321" y="12" width="177" height="156" color-interpolation-filters="sRGB"><feTurbulence type="fractalNoise" baseFrequency="0.35 1.1" numOctaves="2" seed="66" result="n"/><feColorMatrix in="n" type="matrix" values="0 0 0 0 1 0 0 0 0 1 0 0 0 0 1 10 0 0 0 -6.2" result="m"/><feComposite in="SourceGraphic" in2="m" operator="out"/></filter><linearGradient id="B1" gradientUnits="userSpaceOnUse" x1="80.6" y1="0" x2="175.8" y2="0"><stop offset="0.00" stop-color="#ff9500"/><stop offset="0.50" stop-color="#ffb400"/><stop offset="1.00" stop-color="#e0ff0a"/></linearGradient><linearGradient id="B2" gradientUnits="userSpaceOnUse" x1="86.4" y1="0" x2="176.2" y2="0"><stop offset="0.00" stop-color="#ffd800"/><stop offset="0.50" stop-color="#ffdc00"/><stop offset="1.00" stop-color="#c0ff1b"/></linearGradient><linearGradient id="B3" gradientUnits="userSpaceOnUse" x1="80.4" y1="0" x2="176.6" y2="0"><stop offset="0.00" stop-color="#fffb00"/><stop offset="0.50" stop-color="#f2ff03"/><stop offset="1.00" stop-color="#9eff32"/></linearGradient><linearGradient id="B4" gradientUnits="userSpaceOnUse" x1="84.9" y1="0" x2="177.1" y2="0"><stop offset="0.00" stop-color="#e7ff07"/><stop offset="0.50" stop-color="#c4ff18"/><stop offset="1.00" stop-color="#7fff4b"/></linearGradient><linearGradient id="B5" gradientUnits="userSpaceOnUse" x1="76.7" y1="0" x2="177.5" y2="0"><stop offset="0.00" stop-color="#cfff13"/><stop offset="0.50" stop-color="#9eff32"/><stop offset="1.00" stop-color="#64ff64"/></linearGradient><linearGradient id="B6" gradientUnits="userSpaceOnUse" x1="83.6" y1="0" x2="177.9" y2="0"><stop offset="0.00" stop-color="#b6ff21"/><stop offset="0.50" stop-color="#79ff50"/><stop offset="1.00" stop-color="#4bff7f"/></linearGradient><linearGradient id="B7" gradientUnits="userSpaceOnUse" x1="79.7" y1="0" x2="178.3" y2="0"><stop offset="0.00" stop-color="#a1ff30"/><stop offset="0.50" stop-color="#50ff79"/><stop offset="1.00" stop-color="#36ff99"/></linearGradient><linearGradient id="B8" gradientUnits="userSpaceOnUse" x1="74.0" y1="0" x2="178.6" y2="0"><stop offset="0.00" stop-color="#8dff3f"/><stop offset="0.50" stop-color="#13ffce"/><stop offset="1.00" stop-color="#23ffb4"/></linearGradient><linearGradient id="B9" gradientUnits="userSpaceOnUse" x1="73.5" y1="0" x2="141.1" y2="0"><stop offset="0.00" stop-color="#90ff3d"/><stop offset="0.50" stop-color="#12ffd1"/><stop offset="1.00" stop-color="#00f5ff"/></linearGradient><linearGradient id="B10" gradientUnits="userSpaceOnUse" x1="75.4" y1="0" x2="140.6" y2="0"><stop offset="0.00" stop-color="#8cff40"/><stop offset="0.50" stop-color="#16ffc9"/><stop offset="1.00" stop-color="#00f9ff"/></linearGradient><linearGradient id="B11" gradientUnits="userSpaceOnUse" x1="75.3" y1="0" x2="139.6" y2="0"><stop offset="0.00" stop-color="#88ff43"/><stop offset="0.50" stop-color="#1affc1"/><stop offset="1.00" stop-color="#00fcff"/></linearGradient><linearGradient id="B12" gradientUnits="userSpaceOnUse" x1="81.6" y1="0" x2="139.1" y2="0"><stop offset="0.00" stop-color="#84ff47"/><stop offset="0.50" stop-color="#1fffba"/><stop offset="1.00" stop-color="#00fffe"/></linearGradient><linearGradient id="B13" gradientUnits="userSpaceOnUse" x1="73.0" y1="0" x2="139.5" y2="0"><stop offset="0.00" stop-color="#80ff4a"/><stop offset="0.50" stop-color="#24ffb2"/><stop offset="1.00" stop-color="#01fffb"/></linearGradient><linearGradient id="B14" gradientUnits="userSpaceOnUse" x1="81.4" y1="0" x2="138.5" y2="0"><stop offset="0.00" stop-color="#7bff4f"/><stop offset="0.50" stop-color="#2affa9"/><stop offset="1.00" stop-color="#02fff6"/></linearGradient><linearGradient id="B15" gradientUnits="userSpaceOnUse" x1="74.9" y1="0" x2="137.4" y2="0"><stop offset="0.00" stop-color="#76ff53"/><stop offset="0.50" stop-color="#31ff9f"/><stop offset="1.00" stop-color="#03fff2"/></linearGradient><linearGradient id="B16" gradientUnits="userSpaceOnUse" x1="91.0" y1="0" x2="120.0" y2="0"><stop offset="0.00" stop-color="#a2ff2f"/><stop offset="0.50" stop-color="#5dff6b"/><stop offset="1.00" stop-color="#42ff8a"/></linearGradient></defs>
<g filter="url(#spkB)"><g transform="matrix(0.9391 0 0 0.9387 292.663 0.003)" opacity="0.93">
<polygon points="80.6,97.4 82.3,96.8 84.5,96.0 87.2,95.1 90.0,94.2 92.6,93.4 95.0,92.7 97.0,92.0 98.9,91.3 100.7,90.6 102.5,89.9 104.2,89.2 106.0,88.5 107.7,87.8 109.5,87.1 111.2,86.4 112.8,85.7 114.5,84.9 116.0,84.1 117.5,83.3 118.9,82.5 120.2,81.6 121.5,80.8 122.8,79.9 124.0,79.0 125.1,78.1 126.1,77.2 127.0,76.3 128.0,75.3 129.3,74.4 130.8,73.5 132.8,72.6 135.1,71.6 137.6,70.6 140.2,69.7 142.7,68.8 145.0,68.0 147.1,67.3 149.1,66.6 151.0,66.0 152.8,65.4 154.6,64.7 156.3,64.0 157.9,63.1 159.5,62.2 161.0,61.2 162.4,60.2 163.7,59.2 164.8,58.3 165.7,57.4 166.3,56.4 166.9,55.5 167.3,54.6 167.7,53.7 168.2,52.9 168.7,52.1 169.2,51.4 169.7,50.8 170.1,50.2 170.6,49.6 171.0,49.0 171.4,48.4 171.9,47.9 172.3,47.3 172.7,46.8 173.1,46.4 173.5,46.0 173.9,45.7 174.4,45.4 174.8,45.2 175.2,45.0 175.6,44.9 175.8,44.8 176.2,45.2 176.0,45.4 175.7,45.6 175.4,45.9 175.0,46.2 174.6,46.7 174.2,47.1 173.9,47.7 173.5,48.3 173.1,49.1 172.7,49.8 172.2,50.6 171.8,51.3 171.4,52.0 170.9,52.8 170.5,53.5 170.0,54.3 169.5,55.1 169.0,56.0 168.4,56.9 167.9,57.9 167.4,58.9 166.8,59.9 166.1,61.0 165.1,62.0 164.0,63.0 162.7,64.0 161.2,65.0 159.6,65.9 158.0,66.9 156.3,67.7 154.6,68.5 152.8,69.2 150.9,69.9 148.9,70.6 146.9,71.3 144.8,72.0 142.5,72.9 140.0,73.8 137.5,74.8 135.0,75.8 132.7,76.7 130.8,77.6 129.2,78.5 128.0,79.3 126.9,80.2 125.9,81.0 125.0,81.8 123.8,82.6 122.6,83.4 121.3,84.2 120.0,84.9 118.7,85.7 117.3,86.4 115.8,87.2 114.3,87.9 112.7,88.6 111.0,89.2 109.3,89.9 107.5,90.5 105.8,91.2 104.0,91.8 102.3,92.5 100.5,93.1 98.7,93.7 96.7,94.4 94.7,95.0 92.3,95.6 89.6,96.3 86.8,96.9 84.2,97.3 82.0,97.7 80.5,97.9" fill="url(#B1)"/>
<polygon points="86.4,98.6 89.3,97.7 92.1,96.8 94.6,95.9 96.7,95.1 98.6,94.4 100.4,93.8 102.2,93.1 104.0,92.5 105.7,91.8 107.5,91.1 109.2,90.4 111.0,89.7 112.6,89.1 114.3,88.3 115.8,87.6 117.3,86.8 118.7,86.1 120.0,85.3 121.3,84.5 122.6,83.7 123.8,82.8 124.9,82.0 125.9,81.2 126.9,80.4 127.9,79.6 129.2,78.7 130.7,77.8 132.7,76.9 135.0,76.0 137.5,75.0 140.0,74.0 142.5,73.1 144.8,72.2 146.9,71.5 148.9,70.8 150.9,70.1 152.7,69.4 154.6,68.7 156.3,67.9 158.0,67.1 159.6,66.1 161.2,65.2 162.7,64.2 164.0,63.2 165.2,62.2 166.1,61.1 166.8,60.1 167.5,59.1 168.0,58.0 168.5,57.1 169.0,56.1 169.5,55.3 170.0,54.4 170.5,53.7 171.0,52.9 171.4,52.2 171.8,51.4 172.3,50.7 172.7,49.9 173.1,49.1 173.5,48.4 173.9,47.8 174.3,47.2 174.6,46.7 175.0,46.3 175.4,45.9 175.7,45.6 176.0,45.4 176.2,45.2 176.6,45.5 176.4,45.8 176.2,46.1 175.9,46.6 175.6,47.1 175.3,47.6 175.0,48.3 174.6,49.0 174.3,49.9 173.9,50.8 173.5,51.7 173.0,52.7 172.6,53.6 172.2,54.5 171.7,55.4 171.3,56.2 170.8,57.1 170.3,58.1 169.7,59.0 169.1,60.1 168.6,61.2 168.0,62.3 167.3,63.4 166.5,64.6 165.5,65.6 164.3,66.7 162.9,67.7 161.3,68.7 159.7,69.7 158.0,70.6 156.3,71.5 154.5,72.3 152.7,73.1 150.7,73.8 148.8,74.5 146.7,75.3 144.6,76.1 142.3,77.0 139.9,77.9 137.4,78.9 134.9,79.9 132.7,80.9 130.7,81.8 129.1,82.6 127.9,83.3 126.8,84.1 125.8,84.8 124.8,85.5 123.6,86.2 122.4,87.0 121.1,87.7 119.8,88.4 118.5,89.1 117.1,89.8 115.6,90.5 114.1,91.2 112.5,91.8 110.8,92.4 109.1,93.1 107.3,93.7 105.5,94.3 103.8,94.9 102.0,95.5 100.2,96.1 98.4,96.7 96.4,97.3 94.3,97.7 91.9,98.2 89.1,98.6 86.3,99.1" fill="url(#B2)"/>
<polygon points="80.4,103.0 82.9,102.3 85.8,101.4 88.8,100.5 91.7,99.6 94.2,98.9 96.3,98.3 98.3,97.7 100.1,97.1 101.9,96.5 103.7,95.8 105.5,95.2 107.2,94.5 109.0,93.9 110.7,93.2 112.4,92.6 114.1,91.9 115.6,91.2 117.1,90.5 118.5,89.7 119.8,89.0 121.1,88.3 122.4,87.5 123.6,86.7 124.8,86.0 125.8,85.3 126.8,84.6 127.9,83.8 129.1,83.1 130.7,82.3 132.6,81.4 134.9,80.4 137.4,79.4 139.9,78.4 142.3,77.5 144.6,76.6 146.7,75.8 148.7,75.0 150.7,74.3 152.6,73.6 154.5,72.8 156.3,72.0 158.0,71.1 159.7,70.1 161.4,69.2 162.9,68.2 164.3,67.1 165.5,66.1 166.5,65.0 167.4,63.9 168.1,62.7 168.7,61.6 169.2,60.5 169.8,59.4 170.4,58.4 170.9,57.5 171.4,56.6 171.8,55.7 172.3,54.8 172.7,53.9 173.1,53.0 173.6,52.0 174.0,51.0 174.4,50.1 174.7,49.2 175.1,48.4 175.4,47.8 175.7,47.2 176.0,46.7 176.2,46.2 176.5,45.8 176.6,45.6 177.1,46.0 176.9,46.4 176.8,46.8 176.6,47.4 176.4,48.1 176.2,48.9 175.9,49.7 175.6,50.7 175.3,51.8 174.9,53.0 174.5,54.2 174.1,55.4 173.6,56.6 173.2,57.6 172.8,58.7 172.3,59.7 171.8,60.8 171.3,61.8 170.7,62.9 170.0,64.1 169.4,65.4 168.7,66.6 167.9,67.9 167.0,69.1 165.9,70.3 164.6,71.4 163.1,72.4 161.5,73.4 159.8,74.4 158.1,75.4 156.3,76.3 154.4,77.2 152.5,78.0 150.6,78.8 148.6,79.6 146.5,80.4 144.4,81.2 142.1,82.2 139.7,83.2 137.2,84.2 134.8,85.2 132.6,86.1 130.6,87.0 129.1,87.8 127.8,88.4 126.7,89.1 125.6,89.7 124.6,90.3 123.4,90.9 122.1,91.5 120.9,92.1 119.6,92.8 118.3,93.4 116.9,94.1 115.4,94.7 113.9,95.3 112.2,95.9 110.5,96.5 108.8,97.1 107.0,97.7 105.2,98.2 103.5,98.8 101.7,99.3 99.9,99.9 98.0,100.4 96.0,101.0 93.9,101.5 91.3,102.1 88.4,102.5 85.4,102.9 82.6,103.3 80.2,103.6" fill="url(#B3)"/>
<polygon points="84.9,105.1 88.1,104.3 91.1,103.4 93.7,102.6 95.9,101.8 97.9,101.2 99.8,100.7 101.6,100.1 103.4,99.5 105.2,98.9 107.0,98.3 108.8,97.7 110.5,97.1 112.2,96.4 113.8,95.8 115.4,95.2 116.9,94.5 118.3,93.8 119.6,93.2 120.9,92.5 122.1,91.8 123.4,91.1 124.6,90.5 125.6,89.9 126.7,89.3 127.8,88.7 129.1,88.0 130.6,87.2 132.6,86.4 134.8,85.4 137.2,84.4 139.7,83.4 142.1,82.4 144.4,81.5 146.5,80.6 148.5,79.8 150.6,79.0 152.5,78.2 154.4,77.4 156.3,76.5 158.1,75.6 159.8,74.6 161.5,73.7 163.1,72.7 164.6,71.6 165.9,70.5 167.0,69.4 168.0,68.1 168.7,66.8 169.4,65.6 170.1,64.3 170.7,63.1 171.3,62.0 171.9,60.9 172.4,59.9 172.8,58.8 173.3,57.8 173.7,56.7 174.1,55.5 174.5,54.3 174.9,53.1 175.3,51.9 175.6,50.8 175.9,49.8 176.2,49.0 176.4,48.2 176.7,47.5 176.8,46.9 177.0,46.4 177.1,46.0 177.5,46.4 177.4,46.8 177.3,47.4 177.2,48.2 177.1,49.0 176.9,50.0 176.7,51.0 176.4,52.1 176.1,53.4 175.7,54.9 175.4,56.3 174.9,57.7 174.5,59.1 174.1,60.3 173.6,61.5 173.2,62.7 172.7,63.8 172.1,65.0 171.5,66.3 170.8,67.6 170.1,68.9 169.3,70.3 168.4,71.7 167.4,73.0 166.3,74.3 164.9,75.4 163.4,76.5 161.7,77.5 159.9,78.4 158.1,79.4 156.2,80.3 154.4,81.3 152.4,82.1 150.4,83.0 148.4,83.8 146.3,84.7 144.2,85.6 141.9,86.6 139.5,87.6 137.1,88.6 134.7,89.7 132.5,90.6 130.6,91.5 129.0,92.2 127.7,92.8 126.6,93.3 125.5,93.8 124.4,94.3 123.2,94.8 121.9,95.4 120.7,95.9 119.4,96.5 118.1,97.1 116.7,97.7 115.2,98.3 113.7,98.8 112.0,99.4 110.3,100.0 108.6,100.5 106.8,101.1 105.0,101.6 103.2,102.2 101.4,102.7 99.6,103.2 97.7,103.7 95.7,104.2 93.5,104.5 90.9,104.8 87.9,105.2 84.8,105.6" fill="url(#B4)"/>
<polygon points="76.7,109.3 78.6,108.7 81.3,108.0 84.4,107.2 87.7,106.4 90.8,105.8 93.4,105.2 95.6,104.7 97.7,104.2 99.6,103.6 101.4,103.1 103.2,102.5 104.9,102.0 106.8,101.4 108.5,100.8 110.3,100.2 112.0,99.6 113.6,99.0 115.2,98.4 116.7,97.8 118.1,97.1 119.4,96.5 120.7,95.9 122.0,95.3 123.2,94.7 124.4,94.1 125.5,93.6 126.6,93.1 127.7,92.6 129.0,92.0 130.6,91.3 132.5,90.4 134.7,89.5 137.1,88.4 139.5,87.4 141.9,86.4 144.2,85.4 146.3,84.5 148.4,83.6 150.4,82.8 152.4,81.9 154.4,81.1 156.2,80.2 158.1,79.2 159.9,78.3 161.7,77.3 163.3,76.3 164.9,75.2 166.2,74.1 167.4,72.9 168.4,71.5 169.3,70.2 170.1,68.8 170.8,67.4 171.5,66.1 172.1,64.9 172.7,63.7 173.2,62.5 173.6,61.4 174.0,60.2 174.5,58.9 174.9,57.6 175.3,56.2 175.7,54.8 176.1,53.4 176.4,52.1 176.7,50.9 176.9,49.9 177.1,49.0 177.2,48.1 177.3,47.4 177.4,46.8 177.5,46.4 177.9,46.8 177.9,47.3 177.8,48.0 177.8,48.9 177.8,49.9 177.6,51.0 177.5,52.2 177.2,53.5 176.9,55.1 176.6,56.7 176.2,58.4 175.8,60.0 175.4,61.5 174.9,62.9 174.5,64.2 174.1,65.5 173.6,66.8 173.0,68.1 172.3,69.5 171.6,70.9 170.8,72.4 169.9,73.9 169.0,75.4 167.9,76.9 166.6,78.2 165.2,79.3 163.6,80.4 161.8,81.4 160.0,82.4 158.1,83.4 156.2,84.3 154.3,85.3 152.3,86.2 150.3,87.1 148.2,88.0 146.1,88.9 144.0,89.9 141.7,90.9 139.4,92.0 137.0,93.0 134.6,94.1 132.4,95.0 130.5,95.8 129.0,96.5 127.6,97.0 126.4,97.4 125.3,97.8 124.2,98.2 123.0,98.6 121.7,99.1 120.5,99.6 119.2,100.2 117.9,100.7 116.5,101.2 115.0,101.8 113.5,102.3 111.8,102.8 110.1,103.4 108.3,103.9 106.5,104.4 104.7,104.9 102.9,105.4 101.1,105.9 99.3,106.3 97.4,106.8 95.3,107.3 93.1,107.7 90.4,108.3 87.2,108.8 84.0,109.2 80.9,109.5 78.3,109.7 76.5,109.8" fill="url(#B5)"/>
<polygon points="83.6,110.9 87.0,110.1 90.2,109.3 93.0,108.5 95.3,107.8 97.4,107.3 99.3,106.8 101.1,106.3 102.9,105.8 104.7,105.3 106.5,104.7 108.3,104.2 110.1,103.6 111.8,103.0 113.5,102.5 115.0,101.9 116.5,101.3 117.9,100.8 119.2,100.2 120.5,99.6 121.8,99.1 123.0,98.5 124.2,98.0 125.4,97.6 126.4,97.2 127.6,96.8 129.0,96.3 130.5,95.6 132.5,94.8 134.6,93.9 137.0,92.8 139.4,91.8 141.7,90.7 144.0,89.7 146.1,88.8 148.2,87.8 150.3,86.9 152.3,86.0 154.3,85.1 156.2,84.1 158.1,83.2 160.0,82.2 161.8,81.3 163.6,80.2 165.2,79.2 166.6,78.0 167.9,76.7 168.9,75.3 169.9,73.8 170.7,72.3 171.5,70.8 172.3,69.4 172.9,68.0 173.5,66.7 174.0,65.4 174.5,64.1 174.9,62.8 175.3,61.4 175.8,59.9 176.2,58.3 176.5,56.6 176.9,55.0 177.2,53.5 177.4,52.1 177.6,50.9 177.7,49.8 177.8,48.9 177.8,48.0 177.8,47.3 177.9,46.7 178.3,47.1 178.3,47.8 178.3,48.6 178.4,49.6 178.4,50.7 178.4,52.0 178.2,53.4 178.0,54.9 177.7,56.6 177.4,58.5 177.0,60.4 176.6,62.2 176.2,63.9 175.8,65.5 175.4,67.0 174.9,68.4 174.4,69.8 173.8,71.2 173.1,72.7 172.3,74.3 171.4,75.9 170.5,77.5 169.5,79.1 168.3,80.6 167.0,82.0 165.5,83.2 163.8,84.3 162.0,85.3 160.1,86.3 158.2,87.2 156.2,88.2 154.3,89.2 152.2,90.2 150.1,91.2 148.0,92.1 145.9,93.1 143.8,94.1 141.5,95.1 139.2,96.2 136.8,97.3 134.5,98.4 132.4,99.3 130.5,100.1 128.9,100.7 127.5,101.2 126.3,101.5 125.2,101.8 124.1,102.1 122.8,102.4 121.6,102.9 120.3,103.3 119.0,103.8 117.7,104.2 116.3,104.7 114.8,105.2 113.3,105.7 111.6,106.2 109.9,106.7 108.1,107.2 106.3,107.7 104.5,108.2 102.7,108.6 100.9,109.1 99.0,109.5 97.1,109.9 95.0,110.3 92.7,110.6 90.0,110.8 86.8,111.1 83.5,111.4" fill="url(#B6)"/>
<polygon points="79.7,114.1 83.0,113.5 86.5,112.8 89.8,112.1 92.6,111.5 94.9,111.0 97.0,110.5 99.0,110.1 100.8,109.6 102.6,109.2 104.4,108.7 106.3,108.2 108.1,107.7 109.9,107.1 111.6,106.6 113.2,106.1 114.8,105.6 116.3,105.1 117.7,104.5 119.0,104.0 120.3,103.5 121.5,103.1 122.8,102.6 124.1,102.2 125.2,101.9 126.3,101.6 127.5,101.3 128.9,100.9 130.5,100.3 132.4,99.5 134.5,98.5 136.8,97.5 139.2,96.4 141.5,95.3 143.8,94.2 145.9,93.2 148.0,92.3 150.1,91.3 152.2,90.3 154.3,89.4 156.2,88.4 158.2,87.4 160.1,86.4 162.0,85.4 163.8,84.4 165.5,83.3 167.0,82.1 168.3,80.7 169.5,79.2 170.5,77.6 171.5,76.0 172.3,74.4 173.1,72.8 173.8,71.3 174.4,69.9 174.9,68.5 175.4,67.0 175.8,65.6 176.2,64.0 176.7,62.3 177.1,60.4 177.4,58.5 177.8,56.7 178.1,54.9 178.3,53.4 178.4,52.0 178.4,50.8 178.4,49.6 178.4,48.6 178.3,47.8 178.3,47.1 178.6,47.4 178.6,48.1 178.7,49.0 178.8,50.1 178.9,51.4 178.9,52.8 178.8,54.3 178.6,55.9 178.4,57.8 178.0,59.8 177.7,61.9 177.3,63.9 176.8,65.7 176.4,67.4 176.0,69.0 175.5,70.5 175.0,72.0 174.4,73.6 173.7,75.1 172.9,76.8 172.0,78.5 171.0,80.2 169.9,81.9 168.6,83.4 167.2,84.9 165.7,86.1 164.0,87.2 162.1,88.3 160.2,89.2 158.2,90.2 156.2,91.2 154.2,92.2 152.1,93.2 150.0,94.2 147.9,95.3 145.8,96.3 143.6,97.3 141.4,98.3 139.1,99.5 136.7,100.6 134.5,101.7 132.3,102.6 130.5,103.4 128.8,103.9 127.5,104.3 126.3,104.6 125.1,104.8 123.9,105.0 122.7,105.3 121.4,105.7 120.1,106.1 118.9,106.5 117.6,107.0 116.2,107.4 114.7,107.9 113.1,108.3 111.5,108.8 109.7,109.3 107.9,109.8 106.1,110.2 104.3,110.7 102.4,111.1 100.6,111.5 98.8,111.9 96.9,112.3 94.8,112.7 92.4,113.2 89.6,113.5 86.3,113.8 82.8,114.2 79.6,114.5" fill="url(#B7)"/>
<polygon points="74.0,117.4 76.2,116.9 79.1,116.3 82.5,115.6 86.1,114.9 89.5,114.3 92.3,113.9 94.7,113.4 96.8,113.0 98.8,112.6 100.6,112.1 102.4,111.7 104.2,111.2 106.1,110.8 107.9,110.3 109.7,109.8 111.4,109.2 113.1,108.7 114.7,108.3 116.2,107.8 117.5,107.3 118.8,106.8 120.1,106.4 121.4,105.9 122.7,105.5 123.9,105.2 125.1,104.9 126.2,104.7 127.5,104.5 128.8,104.1 130.4,103.6 132.3,102.8 134.5,101.8 136.7,100.8 139.1,99.7 141.4,98.5 143.6,97.5 145.7,96.4 147.9,95.4 150.0,94.4 152.1,93.4 154.2,92.4 156.2,91.4 158.2,90.4 160.2,89.4 162.1,88.4 164.0,87.4 165.7,86.3 167.3,85.0 168.6,83.6 169.9,82.0 171.0,80.3 172.0,78.6 172.9,76.9 173.7,75.3 174.5,73.7 175.1,72.2 175.6,70.7 176.0,69.1 176.5,67.5 176.9,65.8 177.3,64.0 177.7,62.0 178.1,59.9 178.4,57.9 178.7,56.0 178.8,54.3 178.9,52.8 178.9,51.4 178.9,50.2 178.8,49.0 178.7,48.1 178.6,47.4 179.0,47.8 179.1,48.6 179.2,49.6 179.4,50.9 179.6,52.3 179.6,53.8 179.6,55.5 179.4,57.3 179.2,59.4 178.9,61.7 178.5,64.0 178.1,66.2 177.7,68.2 177.3,70.0 176.9,71.8 176.4,73.4 175.9,75.1 175.3,76.7 174.5,78.4 173.6,80.1 172.6,82.0 171.6,83.8 170.4,85.6 169.1,87.3 167.6,88.8 166.0,90.1 164.2,91.2 162.3,92.2 160.3,93.2 158.2,94.2 156.2,95.2 154.2,96.2 152.0,97.3 149.9,98.4 147.7,99.5 145.6,100.5 143.4,101.6 141.2,102.7 138.9,103.8 136.6,105.0 134.4,106.1 132.3,107.0 130.4,107.8 128.8,108.3 127.4,108.6 126.1,108.7 125.0,108.8 123.8,108.9 122.5,109.1 121.2,109.5 119.9,109.8 118.7,110.2 117.4,110.5 116.0,110.9 114.5,111.3 112.9,111.8 111.3,112.2 109.5,112.6 107.7,113.1 105.9,113.5 104.0,113.9 102.2,114.3 100.4,114.7 98.5,115.1 96.6,115.4 94.4,115.8 92.0,116.2 89.1,116.6 85.7,117.0 82.1,117.3 78.7,117.6 75.9,117.8 73.9,117.8" fill="url(#B8)"/>
<polygon points="73.5,120.0 75.6,119.5 78.5,119.0 82.0,118.3 85.6,117.7 89.1,117.2 92.0,116.7 94.4,116.3 96.5,115.9 98.5,115.5 100.3,115.1 102.2,114.7 104.0,114.3 105.9,113.8 107.7,113.4 109.5,112.9 111.2,112.4 112.9,111.9 114.5,111.5 116.0,111.1 117.4,110.7 118.7,110.3 119.9,109.9 121.2,109.5 122.5,109.2 123.8,108.9 125.2,108.7 126.5,108.6 127.8,108.4 129.1,108.1 130.4,107.8 131.7,107.3 132.9,106.7 134.2,106.1 135.4,105.4 136.5,104.8 137.5,104.3 138.4,103.8 139.2,103.4 139.9,103.1 140.6,102.8 141.1,102.5 140.6,105.3 140.1,105.6 139.5,105.9 138.8,106.3 138.0,106.8 137.1,107.3 136.1,107.8 135.1,108.5 133.9,109.1 132.7,109.8 131.5,110.4 130.2,110.9 129.0,111.3 127.7,111.6 126.4,111.8 125.0,112.1 123.7,112.3 122.3,112.6 121.0,112.9 119.8,113.3 118.5,113.6 117.2,114.0 115.8,114.4 114.3,114.8 112.7,115.2 111.1,115.6 109.4,116.0 107.6,116.3 105.7,116.7 103.9,117.1 102.1,117.4 100.2,117.8 98.4,118.1 96.4,118.4 94.3,118.7 91.9,119.0 89.0,119.4 85.5,119.8 81.9,120.0 78.5,120.2 75.5,120.4 73.4,120.4" fill="url(#B9)"/>
<polygon points="75.4,122.3 78.4,121.8 81.9,121.2 85.5,120.5 89.0,119.9 91.9,119.5 94.3,119.2 96.4,118.8 98.4,118.5 100.2,118.1 102.0,117.8 103.9,117.4 105.7,117.0 107.6,116.5 109.3,116.1 111.1,115.6 112.7,115.2 114.3,114.8 115.8,114.4 117.2,114.0 118.5,113.7 119.8,113.3 121.0,112.9 122.3,112.6 123.7,112.3 125.0,112.1 126.3,111.9 127.7,111.6 129.0,111.3 130.2,111.0 131.5,110.4 132.7,109.8 133.9,109.2 135.1,108.5 136.1,107.9 137.1,107.3 138.0,106.8 138.8,106.4 139.5,106.0 140.1,105.6 140.6,105.3 140.1,108.3 139.6,108.6 139.0,109.0 138.3,109.5 137.5,110.0 136.6,110.5 135.7,111.1 134.7,111.7 133.6,112.4 132.5,113.1 131.3,113.7 130.1,114.3 128.8,114.7 127.5,115.1 126.2,115.4 124.8,115.6 123.5,115.9 122.1,116.2 120.8,116.6 119.6,116.9 118.3,117.2 117.0,117.6 115.6,118.0 114.1,118.3 112.6,118.7 110.9,119.0 109.2,119.4 107.4,119.7 105.6,120.0 103.8,120.3 101.9,120.6 100.1,120.9 98.3,121.2 96.3,121.4 94.2,121.7 91.8,122.0 88.9,122.3 85.4,122.4 81.8,122.6 78.4,122.7 75.4,122.8" fill="url(#B10)"/>
<polygon points="75.3,125.0 78.3,124.5 81.7,124.0 85.4,123.4 88.8,122.8 91.7,122.4 94.1,122.1 96.3,121.8 98.3,121.5 100.1,121.2 101.9,120.9 103.8,120.5 105.6,120.1 107.4,119.8 109.2,119.4 110.9,119.0 112.6,118.6 114.1,118.2 115.6,117.9 117.0,117.5 118.3,117.1 119.6,116.8 120.8,116.5 122.1,116.1 123.5,115.8 124.8,115.5 126.2,115.3 127.5,115.0 128.8,114.6 130.1,114.2 131.3,113.7 132.5,113.0 133.6,112.3 134.7,111.6 135.7,111.0 136.7,110.4 137.5,109.9 138.3,109.4 139.0,108.9 139.6,108.5 139.1,112.0 138.4,112.4 137.7,113.0 137.0,113.5 136.1,114.1 135.3,114.7 134.3,115.4 133.3,116.1 132.2,116.8 131.0,117.5 129.9,118.0 128.6,118.5 127.3,118.9 126.0,119.3 124.6,119.6 123.3,120.0 121.9,120.3 120.6,120.6 119.3,121.0 118.1,121.3 116.8,121.6 115.4,121.9 113.9,122.2 112.4,122.6 110.7,122.9 109.0,123.1 107.3,123.4 105.5,123.7 103.6,124.0 101.8,124.2 100.0,124.4 98.1,124.6 96.2,124.8 94.0,125.0 91.6,125.2 88.7,125.5 85.3,125.5 81.7,125.6 78.2,125.6 75.3,125.6" fill="url(#B11)"/>
<polygon points="81.6,127.3 85.2,126.8 88.7,126.3 91.6,125.9 94.0,125.5 96.1,125.2 98.1,125.0 100.0,124.7 101.8,124.4 103.6,124.1 105.5,123.8 107.3,123.5 109.0,123.2 110.7,122.8 112.4,122.5 113.9,122.2 115.4,121.9 116.8,121.6 118.1,121.2 119.3,120.9 120.6,120.6 121.9,120.2 123.3,119.9 124.6,119.6 126.0,119.2 127.3,118.9 128.6,118.5 129.9,118.0 131.0,117.4 132.2,116.7 133.3,116.0 134.3,115.3 135.3,114.6 136.1,114.0 137.0,113.5 137.7,112.9 138.4,112.4 139.1,111.9 138.6,114.5 138.0,115.0 137.3,115.6 136.6,116.1 135.8,116.7 134.9,117.4 134.0,118.1 133.0,118.8 132.0,119.6 130.9,120.2 129.7,120.8 128.5,121.4 127.2,121.8 125.9,122.2 124.5,122.6 123.1,123.0 121.8,123.3 120.5,123.7 119.2,124.0 117.9,124.3 116.6,124.6 115.2,124.9 113.8,125.2 112.2,125.5 110.6,125.7 108.9,126.0 107.1,126.2 105.3,126.5 103.5,126.7 101.7,126.9 99.9,127.1 98.0,127.3 96.1,127.4 93.9,127.6 91.5,127.6 88.6,127.6 85.2,127.7 81.6,127.7" fill="url(#B12)"/>
<polygon points="73.0,130.6 75.1,130.3 78.1,129.9 81.5,129.4 85.1,129.0 88.6,128.8 91.5,128.6 93.9,128.4 96.0,128.1 98.0,127.9 99.9,127.7 101.7,127.5 103.5,127.2 105.3,127.0 107.1,126.7 108.9,126.4 110.6,126.1 112.2,125.8 113.7,125.5 115.2,125.2 116.6,124.9 117.9,124.6 119.2,124.3 120.4,124.0 121.7,123.7 123.1,123.3 124.5,122.9 125.8,122.6 127.2,122.1 128.5,121.7 129.7,121.2 130.8,120.5 131.9,119.9 133.0,119.1 134.0,118.4 134.9,117.7 135.7,117.0 136.5,116.4 137.3,115.8 138.0,115.3 138.6,114.8 139.1,114.3 139.5,114.0 138.9,117.3 138.5,117.6 138.0,118.1 137.4,118.6 136.8,119.3 136.0,119.9 135.2,120.6 134.4,121.2 133.6,122.0 132.6,122.7 131.7,123.5 130.6,124.2 129.5,124.8 128.3,125.4 127.0,125.9 125.7,126.4 124.3,126.8 122.9,127.3 121.5,127.6 120.2,128.0 118.9,128.3 117.7,128.6 116.4,128.9 115.0,129.1 113.5,129.4 112.0,129.6 110.4,129.8 108.7,130.0 107.0,130.2 105.2,130.4 103.4,130.5 101.5,130.7 99.7,130.8 97.9,130.9 95.9,131.0 93.8,131.1 91.4,131.2 88.5,131.4 85.0,131.5 81.4,131.4 78.0,131.3 75.1,131.2 73.0,131.1" fill="url(#B13)"/>
<polygon points="81.4,133.5 85.0,133.1 88.4,132.7 91.3,132.2 93.7,131.8 95.9,131.6 97.9,131.5 99.7,131.3 101.5,131.1 103.3,130.9 105.2,130.7 107.0,130.5 108.7,130.2 110.4,130.0 112.0,129.7 113.5,129.5 115.0,129.2 116.4,129.0 117.7,128.7 118.9,128.4 120.2,128.1 121.5,127.8 122.9,127.4 124.3,127.0 125.6,126.5 127.0,126.0 128.3,125.5 129.5,124.9 130.6,124.3 131.6,123.6 132.6,122.8 133.5,122.1 134.4,121.3 135.2,120.7 136.0,120.0 136.7,119.4 137.4,118.8 138.0,118.2 138.5,117.7 137.9,121.5 137.4,122.0 136.8,122.7 136.1,123.3 135.4,124.1 134.7,124.7 133.9,125.5 133.1,126.2 132.2,127.0 131.3,127.8 130.3,128.5 129.3,129.2 128.1,129.8 126.8,130.4 125.4,131.0 124.0,131.5 122.6,132.0 121.3,132.4 120.0,132.8 118.7,133.1 117.4,133.3 116.1,133.6 114.7,133.8 113.3,134.0 111.7,134.2 110.1,134.3 108.5,134.4 106.8,134.5 105.0,134.6 103.2,134.7 101.4,134.8 99.6,134.9 97.7,134.9 95.7,135.0 93.6,135.0 91.2,134.8 88.3,134.6 84.9,134.4 81.3,134.2" fill="url(#B14)"/>
<polygon points="74.9,137.2 77.8,136.9 81.2,136.5 84.8,136.1 88.3,135.7 91.2,135.6 93.6,135.5 95.7,135.4 97.7,135.3 99.6,135.2 101.4,135.0 103.2,134.9 105.0,134.7 106.8,134.5 108.5,134.3 110.2,134.1 111.8,133.9 113.3,133.7 114.8,133.5 116.1,133.3 117.4,133.1 118.7,132.8 120.0,132.5 121.3,132.2 122.7,131.7 124.1,131.3 125.4,130.8 126.8,130.2 128.1,129.6 129.3,129.0 130.3,128.3 131.3,127.6 132.3,126.8 133.1,126.0 133.9,125.2 134.7,124.5 135.4,123.8 136.2,123.1 136.8,122.4 137.4,121.8 136.6,126.6 136.0,127.3 135.4,128.1 134.7,128.9 134.0,129.6 133.3,130.4 132.5,131.2 131.8,132.0 130.9,132.8 130.0,133.6 129.0,134.3 127.8,135.0 126.5,135.7 125.2,136.3 123.8,136.9 122.4,137.5 121.0,137.9 119.7,138.3 118.4,138.6 117.1,138.8 115.8,139.0 114.4,139.2 113.0,139.3 111.5,139.5 109.9,139.5 108.2,139.6 106.6,139.6 104.8,139.6 103.0,139.6 101.2,139.6 99.4,139.6 97.5,139.6 95.6,139.6 93.4,139.5 91.0,139.5 88.1,139.5 84.7,139.1 81.1,138.7 77.7,138.3 74.8,138.0" fill="url(#B15)"/>
<path d="M98.4 96.0L100.3 95.4L102.1 94.7L103.8 94.1L105.6 93.5L107.4 92.8L109.1 92.2L110.8 91.5L112.5 90.9L114.2 90.2L115.7 89.5L117.2 88.8L118.6 88.1L119.9 87.3L121.2 86.6L122.4 85.8L123.7 85.0L124.8 84.3L125.9 83.5L126.8 82.8L127.9 82.0L129.2 81.2L130.7 80.4L132.7 79.5L134.9 78.5L137.4 77.5L139.9 76.5L142.4 75.6L144.7 74.7L146.8 73.9L148.8 73.2L150.8 72.5L152.7 71.8L154.5 71.1L156.3 70.2L158.0 69.4L159.7 68.4L161.3 67.4L162.8 66.4L164.2 65.4L165.4 64.4L166.3 63.4L167.1 62.3L167.8 61.2L168.4 60.1L168.9 59.0L169.5 58.0L170.0 57.1L170.5 56.2" stroke="#fff" stroke-width="0.75" fill="none" opacity="0.9"/>
<path d="M118.2 95.1L119.5 94.5L120.8 93.8L122.1 93.2L123.3 92.6L124.5 92.0L125.6 91.4L126.6 90.9L127.7 90.3L129.0 89.7L130.6 88.9L132.5 88.1L134.8 87.1L137.2 86.1L139.6 85.1L142.0 84.1L144.3 83.1L146.4 82.2L148.5 81.4L150.5 80.6L152.5 79.8L154.4 78.9L156.3 78.0L158.1 77.1L159.9 76.2L161.6 75.2L163.2 74.2L164.7 73.1L166.1 72.0L167.2 70.8L168.2 69.6L169.0 68.2L169.7 66.9" stroke="#fff" stroke-width="0.6" fill="none" opacity="0.9"/>
<path d="M121.7 99.4L123.0 98.9L124.2 98.5L125.3 98.1L126.4 97.7L127.6 97.3L128.9 96.8L130.5 96.1L132.4 95.3L134.6 94.4L136.9 93.3L139.3 92.3L141.7 91.2L143.9 90.2L146.1 89.2L148.2 88.3L150.3 87.4L152.3 86.5L154.3 85.6L156.2 84.6L158.1 83.6L160.0 82.7L161.9 81.7L163.6 80.7L165.2 79.6L166.6 78.4L167.9 77.1L169.0 75.7L170.0 74.2L170.8 72.7L171.6 71.2L172.4 69.7L173.0 68.4L173.6 67.0L174.1 65.7L174.6 64.4L175.0 63.1L175.4 61.7L175.8 60.1L176.3 58.5L176.6 56.8" stroke="#fff" stroke-width="0.8" fill="none" opacity="0.9"/>
<path d="M94.8 112.7L96.9 112.3L98.8 111.9L100.7 111.4L102.5 111.0L104.3 110.6L106.1 110.1L108.0 109.6L109.7 109.1L111.5 108.6L113.1 108.1L114.7 107.7L116.2 107.2L117.6 106.7L118.9 106.3L120.2 105.8L121.4 105.4L122.7 105.0L124.0 104.7L125.1 104.4L126.3 104.2L127.5 103.9L128.9 103.6L130.5 103.0L132.3 102.2L134.5 101.3L136.7 100.2L139.1 99.1L141.4 98.0" stroke="#fff" stroke-width="0.6" fill="none" opacity="0.9"/>
<polygon points="106.3,109.3 110.2,109.2 113.4,113.4 116.7,114.2 112.5,115.2 108.5,117 105.3,116.3 105.6,112.5" fill="#30d8ff" opacity="0.8"/>
<path d="M107 112.5h1.2M109.5 114.5h1M108 110.8h0.8" stroke="#2090ff" stroke-width="0.9"/>
<path d="M140.6 105.2L136.6 112L133.4 119.5L130.4 124.8L125.5 128.2L121 129" stroke="#fff" stroke-width="1.5" fill="none" stroke-linejoin="round"/>
<polygon points="108.5,131.6 116,128.8 127,126.5 138,127 138,131 127,131.5 123,136.5 116.5,137.5 117,132" fill="#fff"/>
<ellipse cx="92.5" cy="128.7" rx="2.4" ry="1.3" fill="#fff"/>
<path d="M136.8 119.5C139.5 112.5 147 106.5 153.5 103.6C158 101.8 164 102.8 168.3 107.3" stroke="#00fdff" stroke-width="2.7" fill="none" stroke-linecap="round"/>
<path d="M155 105.5C159 104.5 163 106 166.5 109.5" stroke="#00fdff" stroke-width="1.3" fill="none" stroke-linecap="round"/>
<path d="M158 101.5C162 100.6 166 101.8 169.5 104.2" stroke="#04ffef" stroke-width="1.1" fill="none" stroke-linecap="round"/>
<path d="M150 107.3C155 105 160 105 165 106.6" stroke="#04ffef" stroke-width="1.4" fill="none" stroke-linecap="round"/>
<path d="M156.5 100.3L162.8 99.2" stroke="#04ffef" stroke-width="1.3" fill="none" stroke-linecap="round"/>
<path d="M145 104.5L152 100.8" stroke="#04ffef" stroke-width="1.2" fill="none" stroke-linecap="round"/>
<path d="M137.5 122C142 116.5 149 112 156 110" stroke="#00fdff" stroke-width="2.5" fill="none" stroke-linecap="round"/>
<path d="M139.5 125.3C144 121 149 118 154.5 116" stroke="#00fdff" stroke-width="2.5" fill="none" stroke-linecap="round"/>
<path d="M142 127.5L151.5 121.3" stroke="#00fdff" stroke-width="1.9" fill="none" stroke-linecap="round"/>
<polygon points="122,129.5 129,127.6 134,125.6 140,127 147,128.3 148,131.5 145,134 138,134.8 130,134.2 124,133.6" fill="#00fdff"/>
<path d="M126.5 133.6L133.5 134.3" stroke="#009eff" stroke-width="1.2" fill="none" stroke-linecap="round"/>
<path d="M138 139.8C144 137.4 150 134 155 130.6" stroke="#00fdff" stroke-width="2.6" fill="none" stroke-linecap="round"/>
<ellipse cx="152.7" cy="133.4" rx="4.6" ry="2.9" transform="rotate(-38 152.7 133.4)" fill="#00fdff"/>
<path d="M161.8 132.6L164 129.4" stroke="#04ffef" stroke-width="1.2" fill="none" stroke-linecap="round"/>
<path d="M160 137.5L162 136.6" stroke="#04ffef" stroke-width="1.0" fill="none" stroke-linecap="round"/>
<path d="M91 143.6C96 141.8 110 142 116.5 143.2C120.5 144.2 120.5 147 116.5 147.5C110 148 99 147 91 143.6Z" fill="url(#B16)"/>
<path d="M129 143.6L133.4 144.4" stroke="#48ff82" stroke-width="1.1" fill="none" stroke-linecap="round"/>
<path d="M142 147.6L144.6 147.2" stroke="#bbff1e" stroke-width="1.0" fill="none" stroke-linecap="round"/>
<path d="M123.5 139.6L130 139.4" stroke="#10ffd4" stroke-width="1.0" fill="none" stroke-linecap="round"/>
<g transform="translate(-2.7 1.6)" opacity="0.8"><path d="M158 40.8C159.5 38.8 162.5 39.6 163.2 41.6C163 43.8 159.5 44.2 158 40.8Z" fill="#ff6800"/><path d="M163.5 40C165.5 38.2 169.5 38.2 171.5 40.4C172.5 42.6 170 44.6 167.5 43.6C165.5 44.4 163.6 42.4 163.5 40Z" fill="#ffa600"/></g>
<path d="M154.5 33.5h1.3" stroke="#ff6f00" stroke-width="1.0" fill="none" stroke-linecap="round"/>
<path d="M155.5 35.8h1.3" stroke="#ff8200" stroke-width="1.0" fill="none" stroke-linecap="round"/>
<path d="M153 39h1.3" stroke="#ff9600" stroke-width="1.0" fill="none" stroke-linecap="round"/>
<path d="M152.5 41.5h1.3" stroke="#ff9600" stroke-width="1.0" fill="none" stroke-linecap="round"/>
<path d="M162 36.2h1.3" stroke="#ff6f00" stroke-width="1.0" fill="none" stroke-linecap="round"/>
<path d="M160.5 27h1.3" stroke="#ffd400" stroke-width="1.0" fill="none" stroke-linecap="round"/>
<path d="M161 23h1.3" stroke="#ffeb00" stroke-width="1.0" fill="none" stroke-linecap="round"/>
<path d="M169.5 46.5h1.3" stroke="#ffbf00" stroke-width="1.0" fill="none" stroke-linecap="round"/>
<path d="M151 44.5h1.3" stroke="#ffbf00" stroke-width="1.0" fill="none" stroke-linecap="round"/>
<path d="M86.5 80.2L90 79.6" stroke="#ff6f00" stroke-width="1.2" fill="none" stroke-linecap="round"/>
<path d="M110.5 79.4L114.5 78.2" stroke="#ff6800" stroke-width="1.3" fill="none" stroke-linecap="round"/>
<path d="M150.8 50.2L153 50.4" stroke="#10ffd4" stroke-width="0.8" fill="none" stroke-linecap="round"/>
<path d="M180.5 57h1.2" stroke="#6bff5d" stroke-width="0.9" fill="none" stroke-linecap="round"/>
<path d="M181.5 63h1.2" stroke="#48ff82" stroke-width="0.9" fill="none" stroke-linecap="round"/>
<path d="M179.5 74h1.2" stroke="#38ff96" stroke-width="0.9" fill="none" stroke-linecap="round"/>
<path d="M176.5 84h1.2" stroke="#29ffaa" stroke-width="0.9" fill="none" stroke-linecap="round"/>
<path d="M172 92h1.2" stroke="#10ffd4" stroke-width="0.9" fill="none" stroke-linecap="round"/>
</g></g>
<defs><filter id="spkC" filterUnits="userSpaceOnUse" x="28" y="252" width="176" height="155" color-interpolation-filters="sRGB"><feTurbulence type="fractalNoise" baseFrequency="0.35 1.1" numOctaves="2" seed="67" result="n"/><feColorMatrix in="n" type="matrix" values="0 0 0 0 1 0 0 0 0 1 0 0 0 0 1 10 0 0 0 -6.05" result="m"/><feComposite in="SourceGraphic" in2="m" operator="out"/></filter><linearGradient id="C1" gradientUnits="userSpaceOnUse" x1="80.6" y1="0" x2="175.8" y2="0"><stop offset="0.00" stop-color="#41ff69"/><stop offset="0.50" stop-color="#48ff60"/><stop offset="1.00" stop-color="#4aff5e"/></linearGradient><linearGradient id="C2" gradientUnits="userSpaceOnUse" x1="86.4" y1="0" x2="176.2" y2="0"><stop offset="0.00" stop-color="#55ff53"/><stop offset="0.50" stop-color="#48ff61"/><stop offset="1.00" stop-color="#52ff56"/></linearGradient><linearGradient id="C3" gradientUnits="userSpaceOnUse" x1="80.4" y1="0" x2="176.6" y2="0"><stop offset="0.00" stop-color="#1fff9a"/><stop offset="0.50" stop-color="#36ff77"/><stop offset="1.00" stop-color="#53ff55"/></linearGradient><linearGradient id="C4" gradientUnits="userSpaceOnUse" x1="84.9" y1="0" x2="177.1" y2="0"><stop offset="0.00" stop-color="#41ff69"/><stop offset="0.50" stop-color="#51ff58"/><stop offset="1.00" stop-color="#22ff96"/></linearGradient><linearGradient id="C5" gradientUnits="userSpaceOnUse" x1="76.7" y1="0" x2="177.5" y2="0"><stop offset="0.00" stop-color="#36ff77"/><stop offset="0.50" stop-color="#29ff8a"/><stop offset="1.00" stop-color="#39ff73"/></linearGradient><linearGradient id="C6" gradientUnits="userSpaceOnUse" x1="83.6" y1="0" x2="177.9" y2="0"><stop offset="0.00" stop-color="#3cff6f"/><stop offset="0.50" stop-color="#1dff9e"/><stop offset="1.00" stop-color="#26ff8e"/></linearGradient><linearGradient id="C7" gradientUnits="userSpaceOnUse" x1="79.7" y1="0" x2="178.3" y2="0"><stop offset="0.00" stop-color="#2bff87"/><stop offset="0.50" stop-color="#50ff59"/><stop offset="1.00" stop-color="#45ff64"/></linearGradient><linearGradient id="C8" gradientUnits="userSpaceOnUse" x1="74.0" y1="0" x2="178.6" y2="0"><stop offset="0.00" stop-color="#24ff91"/><stop offset="0.50" stop-color="#46ff63"/><stop offset="1.00" stop-color="#22ff96"/></linearGradient><linearGradient id="C9" gradientUnits="userSpaceOnUse" x1="73.5" y1="0" x2="141.1" y2="0"><stop offset="0.00" stop-color="#3eff6d"/><stop offset="0.50" stop-color="#21ff98"/><stop offset="1.00" stop-color="#1affa3"/></linearGradient><linearGradient id="C10" gradientUnits="userSpaceOnUse" x1="75.4" y1="0" x2="140.6" y2="0"><stop offset="0.00" stop-color="#4eff5b"/><stop offset="0.50" stop-color="#25ff90"/><stop offset="1.00" stop-color="#25ff91"/></linearGradient><linearGradient id="C11" gradientUnits="userSpaceOnUse" x1="75.3" y1="0" x2="139.6" y2="0"><stop offset="0.00" stop-color="#55ff53"/><stop offset="0.50" stop-color="#4cff5d"/><stop offset="1.00" stop-color="#28ff8b"/></linearGradient><linearGradient id="C12" gradientUnits="userSpaceOnUse" x1="81.6" y1="0" x2="139.0" y2="0"><stop offset="0.00" stop-color="#54ff54"/><stop offset="0.50" stop-color="#37ff76"/><stop offset="1.00" stop-color="#3eff6c"/></linearGradient><linearGradient id="C13" gradientUnits="userSpaceOnUse" x1="73.0" y1="0" x2="139.5" y2="0"><stop offset="0.00" stop-color="#26ff8e"/><stop offset="0.50" stop-color="#50ff58"/><stop offset="1.00" stop-color="#3fff6b"/></linearGradient><linearGradient id="C14" gradientUnits="userSpaceOnUse" x1="81.4" y1="0" x2="138.5" y2="0"><stop offset="0.00" stop-color="#54ff54"/><stop offset="0.50" stop-color="#4dff5b"/><stop offset="1.00" stop-color="#29ff8a"/></linearGradient><linearGradient id="C15" gradientUnits="userSpaceOnUse" x1="74.9" y1="0" x2="137.4" y2="0"><stop offset="0.00" stop-color="#2fff81"/><stop offset="0.50" stop-color="#23ff93"/><stop offset="1.00" stop-color="#21ff97"/></linearGradient><linearGradient id="C16" gradientUnits="userSpaceOnUse" x1="91.0" y1="0" x2="120.0" y2="0"><stop offset="0.00" stop-color="#42ff68"/><stop offset="0.50" stop-color="#2dff84"/><stop offset="1.00" stop-color="#2bff87"/></linearGradient></defs>
<g filter="url(#spkC)"><g transform="matrix(0.9291 0 0 0.9297 -0.129 239.321)" opacity="0.93">
<polygon points="80.6,97.4 82.3,96.8 84.5,96.1 87.2,95.2 90.0,94.3 92.6,93.5 94.9,92.8 97.0,92.1 98.9,91.4 100.7,90.7 102.5,90.1 104.2,89.3 106.0,88.6 107.7,87.9 109.5,87.2 111.2,86.5 112.8,85.8 114.4,85.0 116.0,84.3 117.4,83.5 118.8,82.6 120.2,81.8 121.5,80.9 122.7,80.1 124.0,79.2 125.1,78.3 126.1,77.4 127.0,76.4 128.0,75.5 129.3,74.6 130.8,73.7 132.8,72.7 135.1,71.8 137.6,70.8 140.2,69.9 142.7,69.0 145.0,68.2 147.1,67.4 149.1,66.8 151.0,66.2 152.8,65.6 154.6,64.9 156.3,64.2 157.9,63.3 159.5,62.4 161.0,61.4 162.5,60.4 163.7,59.4 164.8,58.4 165.7,57.5 166.4,56.6 166.9,55.6 167.3,54.7 167.8,53.8 168.2,53.0 168.7,52.3 169.2,51.6 169.7,50.9 170.1,50.3 170.6,49.7 171.0,49.1 171.5,48.5 171.9,47.9 172.3,47.4 172.7,46.9 173.1,46.4 173.5,46.0 173.9,45.7 174.4,45.5 174.8,45.2 175.2,45.1 175.6,44.9 175.8,44.8 176.2,45.1 176.0,45.3 175.7,45.6 175.3,45.9 175.0,46.2 174.6,46.6 174.2,47.1 173.8,47.6 173.4,48.3 173.0,49.0 172.6,49.7 172.2,50.5 171.8,51.2 171.3,51.9 170.9,52.7 170.4,53.4 170.0,54.2 169.5,55.0 168.9,55.8 168.4,56.7 167.9,57.7 167.4,58.7 166.8,59.8 166.1,60.8 165.1,61.8 164.0,62.8 162.6,63.8 161.2,64.8 159.6,65.8 158.0,66.7 156.3,67.6 154.6,68.4 152.8,69.1 150.9,69.7 148.9,70.4 146.9,71.1 144.8,71.9 142.5,72.7 140.1,73.6 137.5,74.6 135.0,75.6 132.7,76.5 130.8,77.4 129.2,78.3 128.0,79.2 126.9,80.0 126.0,80.8 125.0,81.7 123.8,82.4 122.6,83.2 121.3,84.0 120.0,84.8 118.7,85.6 117.3,86.3 115.8,87.0 114.3,87.7 112.7,88.4 111.0,89.1 109.3,89.8 107.5,90.4 105.8,91.1 104.0,91.7 102.3,92.4 100.5,93.0 98.7,93.6 96.7,94.3 94.7,94.9 92.3,95.5 89.6,96.3 86.8,96.8 84.2,97.3 82.0,97.6 80.5,97.9" fill="url(#C1)"/>
<polygon points="86.4,98.7 89.3,97.8 92.1,96.9 94.6,96.0 96.6,95.2 98.6,94.5 100.4,93.9 102.2,93.2 104.0,92.6 105.7,91.9 107.5,91.2 109.2,90.6 111.0,89.9 112.6,89.2 114.2,88.5 115.8,87.7 117.3,87.0 118.7,86.2 120.0,85.4 121.3,84.6 122.6,83.8 123.8,83.0 124.9,82.2 125.9,81.4 126.9,80.5 127.9,79.7 129.2,78.9 130.7,78.0 132.7,77.1 135.0,76.1 137.5,75.2 140.0,74.2 142.5,73.3 144.8,72.4 146.9,71.6 148.9,70.9 150.9,70.3 152.7,69.6 154.6,68.9 156.3,68.1 158.0,67.2 159.6,66.3 161.2,65.3 162.7,64.3 164.0,63.3 165.2,62.3 166.1,61.3 166.9,60.3 167.5,59.2 168.0,58.2 168.5,57.2 169.0,56.2 169.6,55.4 170.1,54.6 170.5,53.8 171.0,53.0 171.4,52.3 171.9,51.5 172.3,50.8 172.7,50.0 173.1,49.2 173.5,48.5 173.9,47.8 174.3,47.2 174.7,46.8 175.0,46.3 175.4,46.0 175.7,45.6 176.0,45.4 176.2,45.2 176.6,45.5 176.4,45.8 176.2,46.1 175.9,46.5 175.6,47.0 175.3,47.6 174.9,48.2 174.6,49.0 174.2,49.8 173.8,50.7 173.4,51.7 173.0,52.6 172.6,53.5 172.1,54.4 171.7,55.3 171.2,56.1 170.8,57.0 170.3,57.9 169.7,58.9 169.1,59.9 168.6,61.0 168.0,62.2 167.3,63.3 166.5,64.4 165.5,65.5 164.2,66.5 162.9,67.5 161.3,68.5 159.7,69.5 158.0,70.5 156.3,71.4 154.5,72.2 152.7,72.9 150.7,73.6 148.8,74.4 146.7,75.1 144.6,75.9 142.4,76.8 139.9,77.8 137.4,78.8 134.9,79.7 132.7,80.7 130.7,81.6 129.1,82.4 127.9,83.2 126.8,83.9 125.8,84.7 124.8,85.4 123.6,86.1 122.4,86.8 121.1,87.5 119.8,88.3 118.5,89.0 117.1,89.7 115.7,90.4 114.1,91.0 112.5,91.7 110.8,92.3 109.1,93.0 107.3,93.6 105.5,94.2 103.8,94.8 102.0,95.4 100.2,96.0 98.4,96.6 96.4,97.2 94.3,97.6 91.9,98.1 89.2,98.6 86.3,99.1" fill="url(#C2)"/>
<polygon points="80.4,103.0 82.9,102.3 85.7,101.5 88.8,100.6 91.7,99.7 94.2,99.0 96.3,98.4 98.3,97.8 100.1,97.2 101.9,96.6 103.7,96.0 105.5,95.3 107.2,94.7 109.0,94.0 110.7,93.4 112.4,92.7 114.0,92.0 115.6,91.3 117.1,90.6 118.5,89.9 119.8,89.2 121.1,88.4 122.3,87.7 123.6,86.9 124.8,86.2 125.8,85.5 126.8,84.8 127.9,84.0 129.1,83.3 130.7,82.5 132.6,81.6 134.9,80.6 137.4,79.6 139.9,78.6 142.3,77.7 144.6,76.8 146.7,76.0 148.7,75.2 150.7,74.5 152.6,73.8 154.5,73.0 156.3,72.2 158.0,71.3 159.7,70.3 161.4,69.3 162.9,68.3 164.3,67.3 165.5,66.3 166.6,65.2 167.4,64.1 168.1,62.9 168.7,61.7 169.3,60.6 169.8,59.6 170.4,58.6 170.9,57.6 171.4,56.7 171.9,55.8 172.3,54.9 172.8,54.0 173.2,53.1 173.6,52.1 174.0,51.1 174.4,50.1 174.8,49.3 175.1,48.5 175.4,47.8 175.7,47.2 176.0,46.7 176.3,46.2 176.5,45.9 176.6,45.6 177.0,46.0 176.9,46.3 176.8,46.8 176.6,47.4 176.4,48.1 176.1,48.8 175.9,49.7 175.6,50.6 175.2,51.7 174.8,52.9 174.4,54.1 174.0,55.3 173.6,56.4 173.2,57.5 172.7,58.6 172.3,59.6 171.8,60.6 171.2,61.7 170.6,62.8 170.0,64.0 169.4,65.2 168.7,66.5 167.9,67.7 167.0,69.0 165.9,70.1 164.6,71.2 163.1,72.3 161.5,73.3 159.8,74.2 158.1,75.2 156.3,76.1 154.4,77.0 152.5,77.8 150.6,78.6 148.6,79.4 146.5,80.2 144.4,81.0 142.1,82.0 139.7,83.0 137.2,84.0 134.8,85.0 132.6,85.9 130.6,86.8 129.1,87.6 127.8,88.2 126.7,88.9 125.6,89.5 124.6,90.1 123.4,90.7 122.2,91.3 120.9,92.0 119.6,92.6 118.3,93.3 116.9,93.9 115.4,94.5 113.9,95.1 112.2,95.7 110.5,96.3 108.8,96.9 107.0,97.5 105.2,98.1 103.5,98.7 101.7,99.2 99.9,99.8 98.0,100.3 96.0,100.9 93.9,101.4 91.3,102.0 88.4,102.5 85.4,102.9 82.6,103.2 80.2,103.5" fill="url(#C3)"/>
<polygon points="84.9,105.1 88.1,104.3 91.1,103.5 93.7,102.7 95.9,101.9 97.9,101.3 99.8,100.8 101.6,100.2 103.4,99.6 105.2,99.0 107.0,98.4 108.7,97.8 110.5,97.2 112.2,96.6 113.8,95.9 115.4,95.3 116.9,94.6 118.2,94.0 119.6,93.3 120.9,92.6 122.1,92.0 123.4,91.3 124.6,90.6 125.6,90.1 126.7,89.5 127.8,88.8 129.1,88.2 130.6,87.4 132.6,86.6 134.8,85.6 137.2,84.6 139.7,83.6 142.1,82.6 144.4,81.6 146.5,80.8 148.5,80.0 150.6,79.2 152.5,78.4 154.4,77.5 156.3,76.7 158.1,75.7 159.8,74.8 161.5,73.8 163.2,72.8 164.6,71.8 165.9,70.7 167.0,69.5 168.0,68.3 168.8,67.0 169.5,65.7 170.1,64.5 170.8,63.3 171.4,62.1 171.9,61.0 172.4,60.0 172.9,58.9 173.3,57.9 173.7,56.8 174.2,55.6 174.6,54.4 175.0,53.2 175.3,52.0 175.7,50.8 176.0,49.9 176.2,49.0 176.5,48.2 176.7,47.5 176.9,46.9 177.0,46.4 177.1,46.0 177.5,46.4 177.4,46.8 177.3,47.4 177.2,48.1 177.1,49.0 176.9,49.9 176.7,50.9 176.4,52.1 176.1,53.4 175.7,54.8 175.3,56.2 174.9,57.6 174.5,59.0 174.0,60.2 173.6,61.4 173.2,62.5 172.7,63.7 172.1,64.9 171.5,66.1 170.8,67.4 170.1,68.8 169.3,70.2 168.4,71.6 167.4,72.9 166.3,74.1 164.9,75.2 163.3,76.3 161.7,77.3 159.9,78.3 158.1,79.2 156.2,80.2 154.4,81.1 152.4,82.0 150.4,82.8 148.4,83.7 146.3,84.5 144.2,85.4 141.9,86.4 139.5,87.4 137.1,88.5 134.7,89.5 132.5,90.4 130.6,91.3 129.0,92.0 127.7,92.6 126.6,93.1 125.5,93.6 124.4,94.1 123.2,94.6 122.0,95.2 120.7,95.8 119.4,96.4 118.1,97.0 116.7,97.5 115.2,98.1 113.7,98.7 112.0,99.3 110.3,99.8 108.6,100.4 106.8,101.0 105.0,101.5 103.2,102.0 101.4,102.6 99.6,103.1 97.7,103.6 95.7,104.1 93.5,104.4 90.9,104.8 87.9,105.2 84.8,105.6" fill="url(#C4)"/>
<polygon points="76.7,109.3 78.6,108.8 81.3,108.1 84.4,107.3 87.7,106.5 90.7,105.9 93.4,105.3 95.6,104.8 97.6,104.3 99.5,103.7 101.4,103.2 103.1,102.7 104.9,102.1 106.7,101.5 108.5,100.9 110.3,100.3 112.0,99.7 113.6,99.1 115.2,98.5 116.7,97.9 118.1,97.3 119.4,96.7 120.7,96.1 121.9,95.4 123.2,94.8 124.4,94.3 125.5,93.8 126.6,93.3 127.7,92.8 129.0,92.2 130.6,91.5 132.5,90.6 134.7,89.7 137.1,88.6 139.5,87.6 141.9,86.6 144.2,85.6 146.3,84.7 148.4,83.8 150.4,83.0 152.4,82.1 154.4,81.2 156.2,80.3 158.1,79.4 159.9,78.4 161.7,77.5 163.4,76.5 164.9,75.4 166.3,74.3 167.4,73.0 168.4,71.7 169.3,70.3 170.1,68.9 170.8,67.6 171.5,66.2 172.1,65.0 172.7,63.8 173.2,62.7 173.6,61.5 174.1,60.3 174.5,59.1 174.9,57.7 175.3,56.3 175.7,54.9 176.1,53.4 176.4,52.1 176.7,51.0 176.9,50.0 177.1,49.0 177.2,48.2 177.3,47.4 177.4,46.8 177.5,46.4 177.9,46.7 177.8,47.3 177.8,48.0 177.8,48.9 177.7,49.8 177.6,50.9 177.4,52.1 177.2,53.5 176.9,55.0 176.5,56.6 176.2,58.3 175.8,59.9 175.3,61.4 174.9,62.8 174.5,64.1 174.0,65.4 173.5,66.7 172.9,68.0 172.3,69.4 171.5,70.8 170.7,72.3 169.9,73.8 168.9,75.3 167.9,76.7 166.6,78.0 165.2,79.2 163.6,80.2 161.8,81.3 160.0,82.2 158.1,83.2 156.2,84.1 154.3,85.1 152.3,86.0 150.3,86.9 148.2,87.8 146.1,88.7 144.0,89.7 141.7,90.7 139.4,91.8 137.0,92.8 134.6,93.9 132.5,94.8 130.5,95.6 129.0,96.3 127.6,96.8 126.4,97.2 125.4,97.6 124.2,98.0 123.0,98.5 121.8,99.0 120.5,99.5 119.2,100.0 117.9,100.5 116.5,101.1 115.0,101.6 113.5,102.1 111.8,102.7 110.1,103.2 108.3,103.7 106.5,104.3 104.7,104.8 102.9,105.3 101.1,105.8 99.3,106.2 97.4,106.7 95.4,107.2 93.1,107.6 90.4,108.2 87.3,108.7 84.0,109.1 80.9,109.4 78.3,109.7 76.5,109.8" fill="url(#C5)"/>
<polygon points="83.6,110.9 87.0,110.1 90.2,109.3 93.0,108.6 95.3,107.9 97.3,107.4 99.3,106.9 101.1,106.4 102.9,105.9 104.7,105.4 106.5,104.9 108.3,104.3 110.1,103.7 111.8,103.2 113.4,102.6 115.0,102.0 116.5,101.5 117.9,100.9 119.2,100.3 120.5,99.8 121.7,99.2 123.0,98.7 124.2,98.2 125.3,97.8 126.4,97.4 127.6,97.0 129.0,96.5 130.5,95.8 132.4,95.0 134.6,94.1 137.0,93.0 139.4,92.0 141.7,90.9 144.0,89.9 146.1,88.9 148.2,88.0 150.3,87.1 152.3,86.2 154.3,85.3 156.2,84.3 158.1,83.4 160.0,82.4 161.8,81.4 163.6,80.4 165.2,79.3 166.6,78.2 167.9,76.9 169.0,75.4 169.9,74.0 170.8,72.4 171.6,70.9 172.3,69.5 173.0,68.2 173.6,66.8 174.1,65.5 174.5,64.2 174.9,62.9 175.4,61.5 175.8,60.0 176.2,58.4 176.6,56.7 176.9,55.1 177.2,53.5 177.5,52.2 177.6,51.0 177.8,49.9 177.8,48.9 177.8,48.0 177.9,47.3 177.9,46.8 178.3,47.1 178.3,47.7 178.3,48.6 178.4,49.6 178.4,50.7 178.3,52.0 178.2,53.3 178.0,54.8 177.7,56.6 177.4,58.4 177.0,60.3 176.6,62.1 176.2,63.8 175.7,65.4 175.3,66.8 174.9,68.3 174.4,69.7 173.8,71.1 173.1,72.6 172.3,74.1 171.4,75.7 170.5,77.3 169.4,78.9 168.3,80.4 167.0,81.8 165.5,83.0 163.8,84.1 162.0,85.1 160.1,86.1 158.2,87.1 156.2,88.1 154.3,89.1 152.2,90.0 150.2,91.0 148.0,92.0 145.9,92.9 143.8,93.9 141.5,94.9 139.2,96.0 136.8,97.1 134.5,98.2 132.4,99.2 130.5,99.9 128.9,100.5 127.5,101.0 126.3,101.3 125.2,101.6 124.1,101.9 122.8,102.3 121.6,102.7 120.3,103.1 119.0,103.6 117.7,104.1 116.3,104.6 114.9,105.1 113.3,105.6 111.6,106.1 109.9,106.6 108.1,107.1 106.3,107.6 104.5,108.0 102.7,108.5 100.9,108.9 99.0,109.4 97.1,109.8 95.0,110.2 92.7,110.5 90.0,110.8 86.8,111.1 83.5,111.4" fill="url(#C6)"/>
<polygon points="79.7,114.2 83.0,113.5 86.5,112.8 89.8,112.1 92.6,111.5 94.9,111.1 97.0,110.6 99.0,110.2 100.8,109.7 102.6,109.3 104.4,108.8 106.3,108.3 108.1,107.8 109.9,107.2 111.6,106.7 113.2,106.2 114.8,105.7 116.3,105.2 117.7,104.6 119.0,104.1 120.3,103.6 121.5,103.2 122.8,102.7 124.1,102.3 125.2,102.0 126.3,101.7 127.5,101.4 128.9,101.0 130.5,100.4 132.4,99.6 134.5,98.7 136.8,97.6 139.2,96.5 141.5,95.4 143.7,94.4 145.9,93.4 148.0,92.4 150.1,91.4 152.2,90.5 154.2,89.5 156.2,88.5 158.2,87.5 160.1,86.5 162.0,85.6 163.8,84.6 165.5,83.5 167.0,82.2 168.3,80.8 169.5,79.3 170.5,77.7 171.5,76.1 172.3,74.5 173.1,72.9 173.8,71.4 174.4,70.0 175.0,68.6 175.4,67.1 175.8,65.6 176.3,64.1 176.7,62.3 177.1,60.5 177.5,58.6 177.8,56.7 178.1,55.0 178.3,53.5 178.4,52.1 178.4,50.8 178.4,49.6 178.4,48.6 178.3,47.8 178.3,47.2 178.6,47.4 178.6,48.1 178.7,49.0 178.8,50.1 178.9,51.4 178.9,52.8 178.8,54.2 178.6,55.9 178.3,57.8 178.0,59.8 177.6,61.8 177.2,63.8 176.8,65.7 176.4,67.3 176.0,68.9 175.5,70.4 175.0,71.9 174.4,73.5 173.7,75.0 172.8,76.7 171.9,78.4 170.9,80.1 169.8,81.7 168.6,83.3 167.2,84.8 165.7,86.0 164.0,87.1 162.1,88.1 160.2,89.1 158.2,90.1 156.2,91.1 154.2,92.1 152.2,93.1 150.0,94.1 147.9,95.1 145.8,96.1 143.6,97.1 141.4,98.2 139.1,99.3 136.7,100.5 134.5,101.5 132.3,102.5 130.5,103.3 128.9,103.8 127.5,104.2 126.3,104.4 125.1,104.6 123.9,104.9 122.7,105.2 121.4,105.6 120.1,106.0 118.9,106.4 117.6,106.9 116.2,107.3 114.7,107.8 113.1,108.2 111.5,108.7 109.7,109.2 107.9,109.7 106.1,110.1 104.3,110.6 102.5,111.0 100.7,111.5 98.8,111.9 96.9,112.3 94.8,112.7 92.4,113.1 89.6,113.4 86.3,113.8 82.9,114.2 79.6,114.5" fill="url(#C7)"/>
<polygon points="74.0,117.4 76.1,116.9 79.1,116.3 82.5,115.6 86.1,115.0 89.5,114.4 92.3,114.0 94.7,113.5 96.8,113.1 98.7,112.7 100.6,112.3 102.4,111.8 104.2,111.4 106.1,110.9 107.9,110.4 109.7,109.9 111.4,109.4 113.1,108.9 114.7,108.4 116.1,107.9 117.5,107.4 118.8,107.0 120.1,106.5 121.4,106.1 122.7,105.7 123.9,105.3 125.1,105.1 126.2,104.9 127.5,104.7 128.8,104.3 130.4,103.8 132.3,103.0 134.4,102.0 136.7,101.0 139.0,99.8 141.4,98.7 143.6,97.6 145.7,96.6 147.9,95.6 150.0,94.6 152.1,93.6 154.2,92.6 156.2,91.5 158.2,90.5 160.2,89.6 162.1,88.6 164.0,87.6 165.7,86.5 167.3,85.2 168.7,83.8 169.9,82.2 171.0,80.5 172.0,78.8 172.9,77.1 173.8,75.4 174.5,73.8 175.1,72.3 175.6,70.8 176.1,69.2 176.5,67.6 176.9,65.9 177.3,64.1 177.7,62.1 178.1,60.0 178.4,58.0 178.7,56.1 178.9,54.4 179.0,52.9 179.0,51.5 178.9,50.2 178.8,49.1 178.7,48.1 178.6,47.4 179.0,47.8 179.1,48.6 179.2,49.6 179.4,50.8 179.5,52.2 179.6,53.8 179.6,55.4 179.4,57.3 179.2,59.4 178.8,61.6 178.5,63.9 178.1,66.1 177.7,68.1 177.2,69.9 176.8,71.6 176.4,73.3 175.8,74.9 175.2,76.6 174.5,78.2 173.6,80.0 172.6,81.8 171.5,83.7 170.3,85.4 169.0,87.1 167.6,88.6 166.0,89.9 164.2,91.0 162.3,92.1 160.3,93.0 158.2,94.0 156.2,95.0 154.2,96.1 152.0,97.1 149.9,98.2 147.7,99.3 145.6,100.3 143.4,101.4 141.2,102.5 138.9,103.6 136.6,104.8 134.4,105.9 132.3,106.8 130.4,107.6 128.8,108.1 127.4,108.4 126.1,108.5 125.0,108.6 123.8,108.8 122.5,109.0 121.2,109.3 119.9,109.6 118.7,110.0 117.4,110.4 116.0,110.8 114.5,111.2 112.9,111.6 111.3,112.1 109.5,112.5 107.7,113.0 105.9,113.4 104.0,113.8 102.2,114.2 100.4,114.6 98.5,115.0 96.6,115.3 94.4,115.7 92.1,116.1 89.1,116.5 85.7,116.9 82.1,117.3 78.8,117.5 75.9,117.7 73.9,117.8" fill="url(#C8)"/>
<polygon points="73.5,120.0 75.6,119.6 78.5,119.0 82.0,118.4 85.6,117.8 89.1,117.3 92.0,116.8 94.4,116.4 96.5,116.0 98.5,115.6 100.3,115.3 102.2,114.8 104.0,114.4 105.9,114.0 107.7,113.5 109.5,113.0 111.2,112.5 112.9,112.1 114.5,111.6 116.0,111.2 117.3,110.8 118.7,110.4 119.9,110.0 121.2,109.7 122.5,109.3 123.8,109.1 125.2,108.9 126.5,108.7 127.8,108.5 129.1,108.3 130.4,107.9 131.7,107.4 132.9,106.9 134.2,106.2 135.4,105.6 136.5,104.9 137.5,104.4 138.4,104.0 139.2,103.6 139.9,103.2 140.6,102.9 141.1,102.6 140.7,105.1 140.1,105.4 139.5,105.8 138.8,106.2 138.0,106.7 137.1,107.1 136.1,107.7 135.1,108.3 133.9,109.0 132.7,109.7 131.5,110.3 130.2,110.8 129.0,111.2 127.7,111.5 126.4,111.7 125.0,111.9 123.7,112.1 122.3,112.4 121.0,112.8 119.8,113.1 118.5,113.5 117.2,113.9 115.8,114.2 114.3,114.6 112.7,115.0 111.1,115.4 109.4,115.8 107.6,116.2 105.7,116.6 103.9,117.0 102.1,117.3 100.2,117.6 98.4,118.0 96.4,118.3 94.3,118.6 91.9,118.9 89.0,119.3 85.5,119.7 81.9,119.9 78.5,120.2 75.5,120.3 73.4,120.4" fill="url(#C9)"/>
<polygon points="75.4,122.3 78.4,121.8 81.9,121.2 85.5,120.6 88.9,120.0 91.9,119.6 94.3,119.3 96.4,118.9 98.4,118.6 100.2,118.2 102.0,117.9 103.9,117.5 105.7,117.1 107.6,116.7 109.3,116.2 111.1,115.8 112.7,115.4 114.3,115.0 115.8,114.6 117.2,114.2 118.5,113.8 119.7,113.5 121.0,113.1 122.3,112.8 123.6,112.5 125.0,112.3 126.3,112.0 127.7,111.8 129.0,111.5 130.2,111.1 131.5,110.6 132.7,110.0 133.9,109.3 135.0,108.6 136.1,108.0 137.1,107.4 137.9,107.0 138.7,106.5 139.5,106.1 140.1,105.7 140.6,105.4 140.1,108.1 139.6,108.5 139.0,108.9 138.3,109.3 137.5,109.8 136.7,110.4 135.7,110.9 134.7,111.6 133.6,112.3 132.5,113.0 131.3,113.6 130.1,114.1 128.8,114.6 127.5,114.9 126.2,115.2 124.8,115.5 123.5,115.8 122.1,116.1 120.8,116.4 119.6,116.7 118.3,117.1 117.0,117.4 115.6,117.8 114.1,118.2 112.6,118.5 110.9,118.9 109.2,119.2 107.4,119.6 105.6,119.9 103.8,120.2 101.9,120.5 100.1,120.8 98.3,121.1 96.3,121.3 94.2,121.6 91.8,121.9 88.9,122.2 85.4,122.3 81.8,122.5 78.4,122.6 75.4,122.8" fill="url(#C10)"/>
<polygon points="75.3,125.1 78.3,124.6 81.7,124.0 85.4,123.5 88.8,122.9 91.7,122.6 94.1,122.2 96.3,121.9 98.2,121.6 100.1,121.3 101.9,121.0 103.7,120.7 105.6,120.3 107.4,119.9 109.2,119.5 110.9,119.1 112.6,118.7 114.1,118.4 115.6,118.0 117.0,117.7 118.3,117.3 119.6,117.0 120.8,116.6 122.1,116.3 123.5,116.0 124.8,115.7 126.2,115.4 127.5,115.1 128.8,114.8 130.1,114.4 131.3,113.8 132.4,113.2 133.6,112.5 134.7,111.8 135.7,111.1 136.6,110.6 137.5,110.0 138.3,109.5 139.0,109.1 139.6,108.7 139.1,111.8 138.5,112.3 137.8,112.8 137.0,113.4 136.2,113.9 135.3,114.5 134.3,115.2 133.3,115.9 132.2,116.6 131.0,117.3 129.9,117.9 128.6,118.4 127.3,118.8 126.0,119.1 124.6,119.5 123.3,119.8 121.9,120.1 120.6,120.5 119.4,120.8 118.1,121.1 116.8,121.4 115.4,121.8 113.9,122.1 112.4,122.4 110.7,122.7 109.0,123.0 107.3,123.3 105.5,123.5 103.6,123.8 101.8,124.0 100.0,124.3 98.1,124.5 96.2,124.7 94.0,124.9 91.6,125.1 88.7,125.4 85.3,125.4 81.7,125.5 78.2,125.5 75.3,125.6" fill="url(#C11)"/>
<polygon points="81.6,127.3 85.2,126.9 88.7,126.4 91.6,126.0 94.0,125.5 96.1,125.3 98.1,125.1 100.0,124.8 101.8,124.5 103.6,124.3 105.4,124.0 107.3,123.6 109.0,123.3 110.7,123.0 112.3,122.6 113.9,122.3 115.4,122.0 116.8,121.7 118.1,121.4 119.3,121.0 120.6,120.7 121.9,120.4 123.3,120.0 124.6,119.7 126.0,119.4 127.3,119.0 128.6,118.6 129.9,118.1 131.0,117.5 132.2,116.9 133.3,116.2 134.3,115.4 135.2,114.8 136.1,114.1 137.0,113.6 137.7,113.0 138.4,112.5 139.0,112.0 138.7,114.4 138.0,114.9 137.4,115.4 136.6,116.0 135.8,116.6 134.9,117.3 134.0,118.0 133.0,118.7 132.0,119.4 130.9,120.1 129.7,120.7 128.5,121.2 127.2,121.7 125.9,122.1 124.5,122.5 123.1,122.8 121.8,123.2 120.5,123.5 119.2,123.9 117.9,124.2 116.6,124.5 115.2,124.8 113.8,125.0 112.2,125.3 110.6,125.6 108.9,125.9 107.1,126.1 105.4,126.4 103.5,126.6 101.7,126.8 99.9,127.0 98.0,127.2 96.1,127.3 93.9,127.5 91.5,127.5 88.6,127.6 85.2,127.6 81.6,127.7" fill="url(#C12)"/>
<polygon points="73.0,130.6 75.1,130.3 78.1,129.9 81.5,129.5 85.1,129.1 88.6,128.9 91.5,128.7 93.9,128.5 96.0,128.3 98.0,128.1 99.8,127.8 101.7,127.6 103.5,127.4 105.3,127.1 107.1,126.8 108.9,126.6 110.5,126.3 112.2,126.0 113.7,125.7 115.2,125.4 116.6,125.1 117.9,124.8 119.2,124.5 120.4,124.2 121.7,123.8 123.1,123.5 124.5,123.1 125.8,122.7 127.2,122.3 128.5,121.8 129.7,121.3 130.8,120.7 131.9,120.0 133.0,119.3 133.9,118.5 134.9,117.8 135.7,117.2 136.5,116.6 137.3,116.0 138.0,115.4 138.6,114.9 139.1,114.5 139.5,114.2 138.9,117.1 138.6,117.5 138.1,117.9 137.5,118.5 136.8,119.1 136.0,119.8 135.3,120.4 134.5,121.1 133.6,121.8 132.7,122.6 131.7,123.3 130.6,124.0 129.5,124.7 128.3,125.2 127.0,125.7 125.7,126.2 124.3,126.7 122.9,127.1 121.5,127.5 120.2,127.8 119.0,128.1 117.7,128.4 116.4,128.7 115.0,128.9 113.5,129.2 112.0,129.4 110.4,129.7 108.7,129.8 107.0,130.0 105.2,130.2 103.4,130.4 101.5,130.5 99.7,130.7 97.9,130.8 95.9,130.9 93.8,131.0 91.4,131.1 88.5,131.3 85.0,131.4 81.4,131.4 78.0,131.3 75.1,131.2 73.0,131.1" fill="url(#C13)"/>
<polygon points="81.4,133.5 85.0,133.1 88.4,132.7 91.3,132.3 93.7,131.9 95.9,131.8 97.8,131.6 99.7,131.5 101.5,131.3 103.3,131.1 105.2,130.9 106.9,130.7 108.7,130.4 110.4,130.2 112.0,129.9 113.5,129.7 115.0,129.4 116.3,129.2 117.7,128.9 118.9,128.6 120.2,128.3 121.5,128.0 122.9,127.6 124.3,127.2 125.6,126.7 127.0,126.2 128.3,125.7 129.5,125.1 130.6,124.5 131.6,123.8 132.6,123.0 133.5,122.3 134.4,121.5 135.2,120.8 136.0,120.2 136.7,119.5 137.4,118.9 138.0,118.4 138.5,117.9 137.9,121.3 137.4,121.9 136.8,122.5 136.2,123.2 135.4,123.9 134.7,124.6 133.9,125.3 133.1,126.0 132.3,126.8 131.3,127.6 130.3,128.4 129.3,129.0 128.1,129.7 126.8,130.2 125.4,130.8 124.1,131.3 122.7,131.8 121.3,132.2 120.0,132.6 118.7,132.9 117.4,133.1 116.1,133.4 114.7,133.6 113.3,133.8 111.8,134.0 110.2,134.1 108.5,134.3 106.8,134.4 105.0,134.5 103.2,134.6 101.4,134.7 99.6,134.7 97.7,134.8 95.7,134.8 93.6,134.9 91.2,134.7 88.3,134.5 84.9,134.3 81.3,134.1" fill="url(#C14)"/>
<polygon points="74.9,137.3 77.8,136.9 81.2,136.6 84.8,136.2 88.3,135.9 91.2,135.8 93.6,135.7 95.7,135.6 97.7,135.5 99.6,135.3 101.4,135.2 103.2,135.1 105.0,134.9 106.8,134.7 108.5,134.6 110.1,134.4 111.7,134.2 113.3,134.0 114.7,133.8 116.1,133.6 117.4,133.3 118.7,133.1 120.0,132.8 121.3,132.4 122.6,132.0 124.0,131.5 125.4,131.0 126.8,130.4 128.1,129.8 129.3,129.2 130.3,128.5 131.3,127.8 132.2,127.0 133.1,126.2 133.9,125.5 134.7,124.7 135.4,124.1 136.1,123.3 136.8,122.7 137.4,122.0 136.7,126.4 136.1,127.1 135.4,127.9 134.7,128.6 134.0,129.4 133.3,130.2 132.6,131.0 131.8,131.8 131.0,132.6 130.0,133.4 129.0,134.1 127.8,134.8 126.6,135.5 125.2,136.1 123.8,136.7 122.4,137.2 121.0,137.7 119.7,138.1 118.4,138.4 117.1,138.6 115.8,138.8 114.5,138.9 113.0,139.1 111.5,139.2 109.9,139.3 108.3,139.4 106.6,139.4 104.8,139.4 103.0,139.4 101.2,139.4 99.4,139.4 97.5,139.4 95.6,139.4 93.4,139.4 91.0,139.3 88.1,139.3 84.7,139.0 81.1,138.6 77.7,138.3 74.8,138.0" fill="url(#C15)"/>
<path d="M98.4 96.0L100.3 95.4L102.1 94.7L103.8 94.1L105.6 93.5L107.4 92.8L109.1 92.2L110.8 91.5L112.5 90.9L114.2 90.2L115.7 89.5L117.2 88.8L118.6 88.1L119.9 87.3L121.2 86.6L122.4 85.8L123.7 85.0L124.8 84.3L125.9 83.5L126.8 82.8L127.9 82.0L129.2 81.2L130.7 80.4L132.7 79.5L134.9 78.5L137.4 77.5L139.9 76.5L142.4 75.6L144.7 74.7L146.8 73.9L148.8 73.2L150.8 72.5L152.7 71.8L154.5 71.1L156.3 70.2L158.0 69.4L159.7 68.4L161.3 67.4L162.8 66.4L164.2 65.4L165.4 64.4L166.3 63.4L167.1 62.3L167.8 61.2L168.4 60.1L168.9 59.0L169.5 58.0L170.0 57.1L170.5 56.2" stroke="#fff" stroke-width="0.75" fill="none" opacity="0.9"/>
<path d="M118.2 95.1L119.5 94.5L120.8 93.8L122.1 93.2L123.3 92.6L124.5 92.0L125.6 91.4L126.6 90.9L127.7 90.3L129.0 89.7L130.6 88.9L132.5 88.1L134.8 87.1L137.2 86.1L139.6 85.1L142.0 84.1L144.3 83.1L146.4 82.2L148.5 81.4L150.5 80.6L152.5 79.8L154.4 78.9L156.3 78.0L158.1 77.1L159.9 76.2L161.6 75.2L163.2 74.2L164.7 73.1L166.1 72.0L167.2 70.8L168.2 69.6L169.0 68.2L169.7 66.9" stroke="#fff" stroke-width="0.6" fill="none" opacity="0.9"/>
<path d="M121.7 99.4L123.0 98.9L124.2 98.5L125.3 98.1L126.4 97.7L127.6 97.3L128.9 96.8L130.5 96.1L132.4 95.3L134.6 94.4L136.9 93.3L139.3 92.3L141.7 91.2L143.9 90.2L146.1 89.2L148.2 88.3L150.3 87.4L152.3 86.5L154.3 85.6L156.2 84.6L158.1 83.6L160.0 82.7L161.9 81.7L163.6 80.7L165.2 79.6L166.6 78.4L167.9 77.1L169.0 75.7L170.0 74.2L170.8 72.7L171.6 71.2L172.4 69.7L173.0 68.4L173.6 67.0L174.1 65.7L174.6 64.4L175.0 63.1L175.4 61.7L175.8 60.1L176.3 58.5L176.6 56.8" stroke="#fff" stroke-width="0.8" fill="none" opacity="0.9"/>
<path d="M94.8 112.7L96.9 112.3L98.8 111.9L100.7 111.4L102.5 111.0L104.3 110.6L106.1 110.1L108.0 109.6L109.7 109.1L111.5 108.6L113.1 108.1L114.7 107.7L116.2 107.2L117.6 106.7L118.9 106.3L120.2 105.8L121.4 105.4L122.7 105.0L124.0 104.7L125.1 104.4L126.3 104.2L127.5 103.9L128.9 103.6L130.5 103.0L132.3 102.2L134.5 101.3L136.7 100.2L139.1 99.1L141.4 98.0" stroke="#fff" stroke-width="0.6" fill="none" opacity="0.9"/>
<polygon points="106.3,109.3 110.2,109.2 113.4,113.4 116.7,114.2 112.5,115.2 108.5,117 105.3,116.3 105.6,112.5" fill="#fff"/>
<polygon points="105.2,110 108.5,108.8 110.5,111 109.5,114.8 106.5,116.8 104.6,114" fill="#2a7cff"/>
<path d="M103.5 117.6l2.2 0.6" stroke="#20c0ff" stroke-width="1.2"/>
<path d="M140.6 105.2L136.6 112L133.4 119.5L130.4 124.8L125.5 128.2L121 129" stroke="#fff" stroke-width="1.5" fill="none" stroke-linejoin="round"/>
<polygon points="108.5,131.6 116,128.8 127,126.5 138,127 138,131 127,131.5 123,136.5 116.5,137.5 117,132" fill="#fff"/>
<ellipse cx="92.5" cy="128.7" rx="2.4" ry="1.3" fill="#fff"/>
<path d="M136.8 119.5C139.5 112.5 147 106.5 153.5 103.6C158 101.8 164 102.8 168.3 107.3" stroke="#1dff9e" stroke-width="2.7" fill="none" stroke-linecap="round"/>
<path d="M155 105.5C159 104.5 163 106 166.5 109.5" stroke="#1dff9e" stroke-width="1.3" fill="none" stroke-linecap="round"/>
<path d="M158 101.5C162 100.6 166 101.8 169.5 104.2" stroke="#29ff8a" stroke-width="1.1" fill="none" stroke-linecap="round"/>
<path d="M150 107.3C155 105 160 105 165 106.6" stroke="#29ff8a" stroke-width="1.4" fill="none" stroke-linecap="round"/>
<path d="M156.5 100.3L162.8 99.2" stroke="#29ff8a" stroke-width="1.3" fill="none" stroke-linecap="round"/>
<path d="M145 104.5L152 100.8" stroke="#29ff8a" stroke-width="1.2" fill="none" stroke-linecap="round"/>
<path d="M137.5 122C142 116.5 149 112 156 110" stroke="#1dff9e" stroke-width="2.5" fill="none" stroke-linecap="round"/>
<path d="M139.5 125.3C144 121 149 118 154.5 116" stroke="#1dff9e" stroke-width="2.5" fill="none" stroke-linecap="round"/>
<path d="M142 127.5L151.5 121.3" stroke="#1dff9e" stroke-width="1.9" fill="none" stroke-linecap="round"/>
<polygon points="122,129.5 129,127.6 134,125.6 140,127 147,128.3 148,131.5 145,134 138,134.8 130,134.2 124,133.6" fill="#1dff9e"/>
<path d="M126.5 133.6L133.5 134.3" stroke="#1affa5" stroke-width="1.2" fill="none" stroke-linecap="round"/>
<path d="M138 139.8C144 137.4 150 134 155 130.6" stroke="#1dff9e" stroke-width="2.6" fill="none" stroke-linecap="round"/>
<ellipse cx="152.7" cy="133.4" rx="4.6" ry="2.9" transform="rotate(-38 152.7 133.4)" fill="#1dff9e"/>
<path d="M161.8 132.6L164 129.4" stroke="#29ff8a" stroke-width="1.2" fill="none" stroke-linecap="round"/>
<path d="M160 137.5L162 136.6" stroke="#29ff8a" stroke-width="1.0" fill="none" stroke-linecap="round"/>
<path d="M91 143.6C96 141.8 110 142 116.5 143.2C120.5 144.2 120.5 147 116.5 147.5C110 148 99 147 91 143.6Z" fill="url(#C16)"/>
<path d="M129 143.6L133.4 144.4" stroke="#49ff60" stroke-width="1.1" fill="none" stroke-linecap="round"/>
<path d="M142 147.6L144.6 147.2" stroke="#36ff77" stroke-width="1.0" fill="none" stroke-linecap="round"/>
<path d="M123.5 139.6L130 139.4" stroke="#2aff88" stroke-width="1.0" fill="none" stroke-linecap="round"/>
<g transform="translate(-4 3.4)"><path d="M160.5 37.8C162.5 36.2 166 36.6 167.5 38.4C169.5 39 171.5 40.6 170.5 42.2C168 42.6 166.5 40.8 164.5 40.8C162.5 41 160.5 39.6 160.5 37.8Z" fill="#8aff42" opacity="0.85"/><path d="M160.8 40.2l2.4 0.8M165 41.6l3.5 0.3" stroke="#03fff4" stroke-width="1.0"/></g>
<path d="M151.3 33.5h1.3" stroke="#fffd00" stroke-width="1.0" fill="none" stroke-linecap="round"/>
<path d="M149.5 37h1.3" stroke="#f4ff03" stroke-width="1.0" fill="none" stroke-linecap="round"/>
<path d="M148.5 39.6h1.3" stroke="#ddff0b" stroke-width="1.0" fill="none" stroke-linecap="round"/>
<path d="M157.6 23.7h1.3" stroke="#ddff0b" stroke-width="1.0" fill="none" stroke-linecap="round"/>
<path d="M157 28h1.3" stroke="#ddff0b" stroke-width="1.0" fill="none" stroke-linecap="round"/>
<path d="M163.5 38.5h1.3" stroke="#ddff0b" stroke-width="1.0" fill="none" stroke-linecap="round"/>
<path d="M146.5 42.5h1.3" stroke="#52ff76" stroke-width="1.0" fill="none" stroke-linecap="round"/>
<path d="M147 53.5h1.3" stroke="#0bffdd" stroke-width="1.0" fill="none" stroke-linecap="round"/>
<path d="M161 133.5L163 137" stroke="#ddff0b" stroke-width="1.3" fill="none" stroke-linecap="round"/>
<path d="M137.5 131.5L141.5 130.5" stroke="#00f4ff" stroke-width="1.2" fill="none" stroke-linecap="round"/>
<path d="M96 131.5L99 131.2" stroke="#ddff0b" stroke-width="1.0" fill="none" stroke-linecap="round"/>
<path d="M180.5 57h1.2" stroke="#43ff67" stroke-width="0.9" fill="none" stroke-linecap="round"/>
<path d="M181.5 63h1.2" stroke="#1eff9c" stroke-width="0.9" fill="none" stroke-linecap="round"/>
<path d="M179.5 74h1.2" stroke="#53ff55" stroke-width="0.9" fill="none" stroke-linecap="round"/>
<path d="M176.5 84h1.2" stroke="#1cffa0" stroke-width="0.9" fill="none" stroke-linecap="round"/>
<path d="M172 92h1.2" stroke="#43ff66" stroke-width="0.9" fill="none" stroke-linecap="round"/>
</g></g>
</svg>
</body></html>
